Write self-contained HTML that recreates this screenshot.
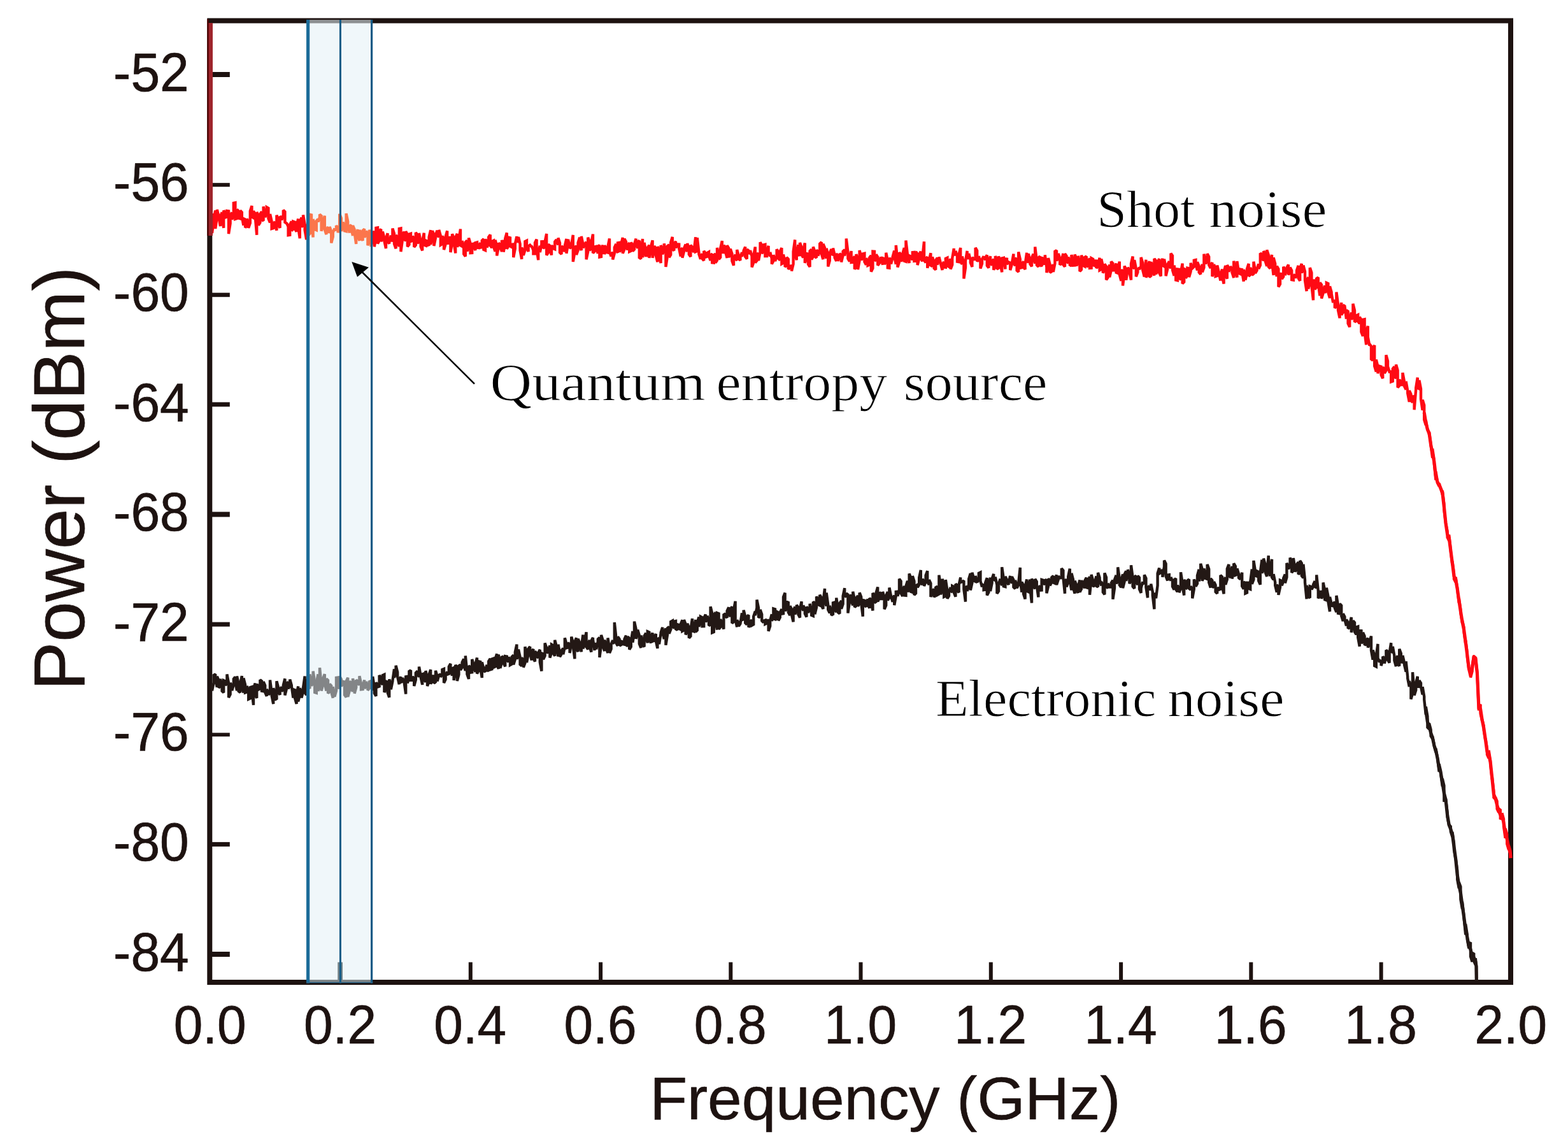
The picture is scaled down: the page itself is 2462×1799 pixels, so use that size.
<!DOCTYPE html>
<html lang="en"><head><meta charset="utf-8"><title>Noise power spectrum</title>
<style>html,body{margin:0;padding:0;background:#fff}body{width:2462px;height:1799px;overflow:hidden}svg{display:block}.s{font-family:"Liberation Sans",sans-serif;fill:#1d1210;stroke:#1d1210;stroke-width:0.7px;stroke-linejoin:round}.r{font-family:"Liberation Serif",serif;fill:#000;stroke:#fff;stroke-width:0.9px}</style></head><body>
<svg width="2462" height="1799" viewBox="0 0 2462 1799">
<rect width="2462" height="1799" fill="#fff"/>
<rect x="329.3" y="32.5" width="2042.7" height="1509.5" fill="none" stroke="#1d1210" stroke-width="8"/>
<rect x="333" y="113.0" width="27.8" height="8.0" fill="#1d1210"/>
<rect x="333" y="287.2" width="27.8" height="6.0" fill="#1d1210"/>
<rect x="333" y="459.6" width="27.8" height="6.6" fill="#1d1210"/>
<rect x="333" y="631.4" width="27.8" height="7.0" fill="#1d1210"/>
<rect x="333" y="803.5" width="27.8" height="8.0" fill="#1d1210"/>
<rect x="333" y="976.6" width="27.8" height="7.0" fill="#1d1210"/>
<rect x="333" y="1150.4" width="27.8" height="5.8" fill="#1d1210"/>
<rect x="333" y="1321.9" width="27.8" height="7.0" fill="#1d1210"/>
<rect x="333" y="1494.0" width="27.8" height="8.0" fill="#1d1210"/>
<rect x="531.5" y="1510.5" width="6" height="28" fill="#1d1210"/>
<rect x="735.8" y="1510.5" width="6" height="28" fill="#1d1210"/>
<rect x="940.1" y="1510.5" width="6" height="28" fill="#1d1210"/>
<rect x="1144.3" y="1510.5" width="6" height="28" fill="#1d1210"/>
<rect x="1348.5" y="1510.5" width="6" height="28" fill="#1d1210"/>
<rect x="1552.8" y="1510.5" width="6" height="28" fill="#1d1210"/>
<rect x="1757.1" y="1510.5" width="6" height="28" fill="#1d1210"/>
<rect x="1961.3" y="1510.5" width="6" height="28" fill="#1d1210"/>
<rect x="2165.6" y="1510.5" width="6" height="28" fill="#1d1210"/>
<svg x="325" y="28" width="2051" height="1518" viewBox="325 28 2051 1518" overflow="hidden"><g fill="none" stroke-linejoin="miter" stroke-miterlimit="2">
<path d="M333.0 1073.0L333.0 1084.3L335.6 1071.5L335.6 1059.9L338.2 1058.3L338.2 1066.1L340.8 1078.7L340.8 1061.8L343.4 1067.8L343.4 1079.6L346.0 1076.9L346.0 1065.8L348.6 1075.3L348.6 1084.8L351.2 1087.2L351.2 1068.1L353.8 1069.3L353.8 1075.7L356.4 1072.8L356.4 1058.5L359.0 1072.1L359.0 1094.9L361.6 1090.0L361.6 1072.0L364.2 1077.5L364.2 1084.1L366.8 1075.1L366.8 1065.9L369.4 1062.7L369.4 1070.2L372.0 1084.2L372.0 1061.4L374.6 1073.4L374.6 1085.0L377.2 1087.1L377.2 1073.7L379.8 1061.1L379.8 1076.5L382.4 1087.6L382.4 1064.5L385.0 1074.7L385.0 1087.4L387.6 1086.5L387.6 1076.8L390.2 1087.0L390.2 1097.6L392.8 1096.4L392.8 1079.0L395.4 1078.2L395.4 1084.8L398.0 1106.8L398.0 1083.2L400.6 1072.6L400.6 1090.3L403.2 1095.8L403.2 1074.0L405.8 1078.1L405.8 1082.5L408.4 1081.2L408.4 1067.2L411.0 1069.3L411.0 1084.7L413.6 1085.2L413.6 1070.1L416.2 1075.9L416.2 1086.9L418.8 1092.8L418.8 1081.7L421.4 1088.5L421.4 1090.6L424.0 1087.8L424.0 1067.5L426.6 1086.8L426.6 1091.9L429.2 1105.1L429.2 1080.3L431.8 1087.8L431.8 1098.4L434.4 1096.8L434.4 1069.3L437.0 1079.3L437.0 1085.7L439.6 1090.7L439.6 1083.1L442.2 1078.2L442.2 1085.2L444.8 1082.6L444.8 1075.8L447.4 1065.4L447.4 1091.5L450.0 1080.9L450.0 1073.4L452.6 1070.6L452.6 1081.3L455.2 1076.5L455.2 1066.6L457.8 1075.9L457.8 1077.2L460.4 1095.5L460.4 1082.2L463.0 1083.3L463.0 1095.7L465.6 1104.9L465.6 1090.4L468.2 1077.5L468.2 1101.1L470.8 1090.8L470.8 1080.3L473.4 1087.0L473.4 1095.4L476.0 1085.8L476.0 1079.9L478.6 1061.5L478.6 1087.0L481.2 1091.0L481.2 1081.1L483.8 1059.7L483.8 1078.6L486.4 1080.7L486.4 1058.5L489.0 1070.2L489.0 1076.7L491.6 1071.6L491.6 1053.7L494.2 1070.9L494.2 1086.9L496.8 1087.7L496.8 1072.9L499.4 1058.5L499.4 1084.9L502.0 1075.6L502.0 1048.2L504.6 1074.3L504.6 1084.4L507.2 1074.5L507.2 1065.2L509.8 1058.2L509.8 1072.8L512.4 1084.4L512.4 1065.5L515.0 1068.0L515.0 1088.4L517.6 1085.2L517.6 1073.8L520.2 1076.7L520.2 1086.1L522.8 1095.6L522.8 1078.1L525.4 1093.6L528.0 1084.2L528.0 1063.9L530.6 1063.5L530.6 1081.4L533.2 1069.7L533.2 1061.4L535.8 1066.4L535.8 1077.2L538.4 1073.3L538.4 1069.7L541.0 1070.5L541.0 1090.8L543.6 1094.4L543.6 1069.5L546.2 1063.8L546.2 1093.9L548.8 1084.5L548.8 1069.7L551.4 1071.6L551.4 1080.9L554.0 1085.4L554.0 1065.1L556.6 1078.4L556.6 1088.6L559.2 1079.3L559.2 1067.4L561.8 1069.9L561.8 1072.8L564.4 1075.1L564.4 1061.2L567.0 1073.3L567.0 1082.3L569.6 1082.0L569.6 1076.7L572.2 1067.6L572.2 1080.6L574.8 1077.8L574.8 1069.9L577.4 1077.3L577.4 1083.5L580.0 1080.4L580.0 1070.2L582.6 1069.0L582.6 1072.8L585.2 1083.9L585.2 1062.0L587.8 1079.1L587.8 1088.1L590.4 1092.8L590.4 1071.6L593.0 1074.6L593.0 1078.4L595.6 1077.5L595.6 1059.9L598.2 1065.0L598.2 1070.1L600.8 1075.0L600.8 1060.2L603.4 1059.0L603.4 1086.8L606.0 1080.7L606.0 1069.7L608.6 1070.6L608.6 1087.1L611.2 1094.7L611.2 1066.3L613.8 1076.0L613.8 1082.3L616.4 1069.6L616.4 1068.7L619.0 1050.4L619.0 1063.7L621.6 1055.9L621.6 1044.7L624.2 1055.3L624.2 1062.4L626.8 1074.3L626.8 1067.1L629.4 1062.5L629.4 1070.8L632.0 1069.7L632.0 1064.0L634.6 1071.0L637.2 1089.4L637.2 1062.3L639.8 1061.8L639.8 1072.4L642.4 1064.0L642.4 1054.0L645.0 1052.2L645.0 1067.7L647.6 1067.6L647.6 1062.1L650.2 1065.6L650.2 1077.0L652.8 1067.3L652.8 1056.4L655.4 1053.5L655.4 1058.3L658.0 1062.6L658.0 1046.6L660.6 1060.6L660.6 1063.1L663.2 1074.9L663.2 1058.2L665.8 1057.3L665.8 1066.1L668.4 1070.7L668.4 1052.9L671.0 1064.7L671.0 1077.0L673.6 1069.6L673.6 1059.0L676.2 1051.2L676.2 1073.8L678.8 1067.1L678.8 1061.4L681.4 1061.3L681.4 1072.7L684.0 1070.3L684.0 1052.8L686.6 1061.9L686.6 1069.4L689.2 1060.0L691.8 1058.3L691.8 1062.8L694.4 1058.2L694.4 1051.1L697.0 1050.0L697.0 1072.0L699.6 1066.4L699.6 1060.7L702.2 1054.3L702.2 1058.7L704.8 1057.7L704.8 1046.5L707.4 1041.9L707.4 1050.5L710.0 1060.7L710.0 1049.5L712.6 1048.1L712.6 1067.9L715.2 1052.9L715.2 1043.7L717.8 1048.4L717.8 1069.0L720.4 1059.0L720.4 1045.3L723.0 1043.5L723.0 1051.8L725.6 1047.3L725.6 1039.7L728.2 1034.4L728.2 1044.1L730.8 1053.0L730.8 1029.5L733.4 1055.3L733.4 1058.3L736.0 1065.9L736.0 1045.2L738.6 1047.5L738.6 1055.7L741.2 1055.4L741.2 1034.9L743.8 1044.0L743.8 1046.2L746.4 1055.0L746.4 1042.9L749.0 1032.5L749.0 1057.6L751.6 1052.4L751.6 1038.3L754.2 1039.0L754.2 1048.3L756.8 1064.0L756.8 1039.5L759.4 1049.5L759.4 1053.0L762.0 1054.7L762.0 1050.6L764.6 1043.8L764.6 1051.8L767.2 1053.5L767.2 1038.2L769.8 1033.9L769.8 1051.2L772.4 1050.4L772.4 1034.5L775.0 1033.6L775.0 1047.8L777.6 1046.5L777.6 1034.4L780.2 1026.4L780.2 1042.4L782.8 1050.1L782.8 1027.6L785.4 1044.0L785.4 1048.9L788.0 1039.8L788.0 1030.3L790.6 1032.3L790.6 1040.8L793.2 1046.2L793.2 1030.1L795.8 1030.6L795.8 1035.5L798.4 1039.4L798.4 1031.8L801.0 1034.9L801.0 1043.9L803.6 1042.4L803.6 1031.4L806.2 1028.6L806.2 1043.3L808.8 1035.1L808.8 1023.8L811.4 1011.6L811.4 1034.5L814.0 1029.6L814.0 1019.5L816.6 1031.4L816.6 1043.0L819.2 1045.3L819.2 1032.1L821.8 1037.5L821.8 1047.6L824.4 1040.8L824.4 1015.3L827.0 1026.3L827.0 1040.1L829.6 1026.6L829.6 1018.5L832.2 1015.2L832.2 1025.4L834.8 1036.5L834.8 1022.8L837.4 1019.1L837.4 1032.6L840.0 1038.6L840.0 1022.4L842.6 1025.6L842.6 1030.0L845.2 1032.7L845.2 1024.7L847.8 1019.9L847.8 1039.5L850.4 1053.5L850.4 1025.5L853.0 1026.5L853.0 1035.2L855.6 1029.5L855.6 1009.5L858.2 1017.1L858.2 1023.3L860.8 1025.0L860.8 1020.1L863.4 1013.6L863.4 1032.5L866.0 1024.6L866.0 1011.6L868.6 1013.0L868.6 1025.1L871.2 1029.7L871.2 1004.7L873.8 1014.5L873.8 1015.1L876.4 1030.5L876.4 1011.8L879.0 1024.8L879.0 1031.1L881.6 1026.7L881.6 1021.7L884.2 1017.6L884.2 1027.3L886.8 1015.9L886.8 1001.4L889.4 1010.5L889.4 1017.3L892.0 1016.5L892.0 1008.5L894.6 1013.8L894.6 1025.1L897.2 1008.9L897.2 999.5L899.8 1008.7L899.8 1014.6L902.4 1034.2L902.4 1007.8L905.0 1001.4L905.0 1017.7L907.6 1023.0L907.6 1002.8L910.2 1009.0L910.2 1012.7L912.8 1023.2L912.8 1015.6L915.4 996.5L915.4 1018.2L918.0 1010.8L918.0 1006.2L920.6 992.3L920.6 1015.4L923.2 1019.4L923.2 1011.4L925.8 1004.9L925.8 1015.2L928.4 1023.6L928.4 1005.8L931.0 1001.1L931.0 1003.9L933.6 1021.0L933.6 1009.8L936.2 1012.9L936.2 1019.2L938.8 1007.3L938.8 1003.4L941.4 1000.9L941.4 1031.9L944.0 1012.4L944.0 996.8L946.6 1005.0L946.6 1014.0L949.2 1022.0L949.2 1004.8L951.8 1012.3L951.8 1017.7L954.4 1025.0L954.4 1001.4L957.0 1017.9L957.0 1025.1L959.6 1018.9L959.6 1012.0L962.2 1005.1L962.2 1010.4L964.8 1006.9L964.8 977.1L967.4 1001.0L967.4 1009.5L970.0 1013.8L970.0 999.4L972.6 1003.1L972.6 1012.0L975.2 1013.6L975.2 1006.6L977.8 1007.5L977.8 1011.0L980.4 1011.7L980.4 1003.4L983.0 997.8L983.0 1012.2L985.6 1014.3L985.6 999.5L988.2 1002.2L988.2 1019.5L990.8 1015.3L990.8 1007.0L993.4 990.9L993.4 1008.6L996.0 992.7L996.0 975.6L998.6 987.6L998.6 1002.8L1001.2 993.2L1001.2 988.6L1003.8 997.4L1003.8 1010.5L1006.4 1017.0L1006.4 997.6L1009.0 1008.9L1009.0 1012.2L1011.6 1015.3L1011.6 998.3L1014.2 994.0L1014.2 1000.6L1016.8 1009.2L1016.8 991.4L1019.4 992.6L1019.4 1002.5L1022.0 1009.6L1022.0 999.9L1024.6 993.6L1024.6 1006.6L1027.2 1005.5L1027.2 1001.2L1029.8 995.1L1029.8 1005.8L1032.4 1017.9L1032.4 1001.7L1035.0 1003.7L1035.0 1011.2L1037.6 994.5L1037.6 993.2L1040.2 984.8L1040.2 991.6L1042.8 1003.3L1042.8 993.0L1045.4 986.5L1045.4 1012.7L1048.0 996.3L1048.0 986.1L1050.6 984.1L1050.6 994.7L1053.2 988.2L1053.2 976.1L1055.8 974.6L1055.8 982.6L1058.4 986.3L1058.4 975.5L1061.0 975.0L1061.0 987.2L1063.6 988.9L1063.6 980.2L1066.2 981.0L1066.2 986.7L1068.8 988.2L1068.8 979.7L1071.4 973.2L1071.4 990.7L1074.0 989.2L1074.0 973.1L1076.6 979.9L1076.6 996.3L1079.2 990.8L1079.2 978.7L1081.8 985.3L1081.8 1001.6L1084.4 998.6L1084.4 988.2L1087.0 971.0L1087.0 990.5L1089.6 991.3L1089.6 985.9L1092.2 973.0L1092.2 992.1L1094.8 989.3L1094.8 977.0L1097.4 968.7L1097.4 983.9L1100.0 975.1L1100.0 967.9L1102.6 969.3L1102.6 983.2L1105.2 983.1L1105.2 970.4L1107.8 964.6L1107.8 975.9L1110.4 973.5L1110.4 966.7L1113.0 975.1L1113.0 982.1L1115.6 980.5L1115.6 952.3L1118.2 962.9L1118.2 993.1L1120.8 992.0L1120.8 966.8L1123.4 961.2L1123.4 974.5L1126.0 988.5L1126.0 962.3L1128.6 963.3L1128.6 987.8L1131.2 984.3L1131.2 972.0L1133.8 978.7L1133.8 980.4L1136.4 987.4L1136.4 965.1L1139.0 963.2L1139.0 967.0L1141.6 969.7L1141.6 959.0L1144.2 953.3L1144.2 963.3L1146.8 967.9L1146.8 957.6L1149.4 952.3L1149.4 978.2L1152.0 976.0L1152.0 957.2L1154.6 943.8L1154.6 972.8L1157.2 984.3L1157.2 973.5L1159.8 977.7L1159.8 983.1L1162.4 979.2L1162.4 978.9L1165.0 962.4L1165.0 973.2L1167.6 972.1L1167.6 957.8L1170.2 967.9L1170.2 977.8L1172.8 980.6L1172.8 968.1L1175.4 965.5L1175.4 984.5L1178.0 981.0L1178.0 975.8L1180.6 973.4L1180.6 981.7L1183.2 980.3L1183.2 967.6L1185.8 959.8L1185.8 965.9L1188.4 954.2L1188.4 941.4L1191.0 954.2L1191.0 969.6L1193.6 967.2L1193.6 957.0L1196.2 964.4L1196.2 974.4L1198.8 977.4L1198.8 974.8L1201.4 973.7L1201.4 979.6L1204.0 978.3L1204.0 973.8L1206.6 973.7L1206.6 990.8L1209.2 982.9L1209.2 974.6L1211.8 964.2L1211.8 974.7L1214.4 968.0L1214.4 955.5L1217.0 956.4L1217.0 973.8L1219.6 969.2L1219.6 960.1L1222.2 961.5L1222.2 974.1L1224.8 969.3L1224.8 961.4L1227.4 956.3L1227.4 963.6L1230.0 963.2L1230.0 937.1L1232.6 930.7L1232.6 959.3L1235.2 954.6L1235.2 944.8L1237.8 946.0L1237.8 961.2L1240.4 966.0L1240.4 951.3L1243.0 956.4L1243.0 964.9L1245.6 976.2L1245.6 959.4L1248.2 952.6L1248.2 964.6L1250.8 956.4L1250.8 949.8L1253.4 953.6L1253.4 964.5L1256.0 969.6L1256.0 956.1L1258.6 944.3L1258.6 952.1L1261.2 958.7L1261.2 950.4L1263.8 956.2L1263.8 963.3L1266.4 968.4L1266.4 952.4L1269.0 956.2L1269.0 962.0L1271.6 954.5L1271.6 947.7L1274.2 961.4L1274.2 965.8L1276.8 966.9L1276.8 944.7L1279.4 947.0L1279.4 964.3L1282.0 953.4L1282.0 936.6L1284.6 941.3L1284.6 949.1L1287.2 950.3L1287.2 933.7L1289.8 938.8L1289.8 950.3L1292.4 955.9L1292.4 944.7L1295.0 923.9L1295.0 942.6L1297.6 951.4L1297.6 930.6L1300.2 949.3L1300.2 956.9L1302.8 962.4L1302.8 950.7L1305.4 961.0L1305.4 965.7L1308.0 964.1L1308.0 946.3L1310.6 945.5L1310.6 956.3L1313.2 961.0L1313.2 938.6L1315.8 954.7L1315.8 961.2L1318.4 963.3L1318.4 947.1L1321.0 943.1L1321.0 955.7L1323.6 948.2L1323.6 935.8L1326.2 923.2L1326.2 934.9L1328.8 937.2L1328.8 931.6L1331.4 933.5L1331.4 962.4L1334.0 944.8L1334.0 937.2L1336.6 933.7L1336.6 942.3L1339.2 950.3L1339.2 928.8L1341.8 940.9L1341.8 953.1L1344.4 950.9L1344.4 939.0L1347.0 935.1L1347.0 951.8L1349.6 946.9L1349.6 930.4L1352.2 937.2L1352.2 946.4L1354.8 967.8L1354.8 942.0L1357.4 942.7L1357.4 949.4L1360.0 952.8L1360.0 946.6L1362.6 940.6L1362.6 947.5L1365.2 954.8L1365.2 939.0L1367.8 941.7L1367.8 944.4L1370.4 958.6L1370.4 931.0L1373.0 934.8L1373.0 946.3L1375.6 944.3L1375.6 930.5L1378.2 921.6L1378.2 944.4L1380.8 938.8L1380.8 929.9L1383.4 932.4L1383.4 940.0L1386.0 940.1L1386.0 928.9L1388.6 939.0L1388.6 956.3L1391.2 950.4L1391.2 935.2L1393.8 929.1L1393.8 942.4L1396.4 937.9L1396.4 922.5L1399.0 935.7L1401.6 944.9L1401.6 940.5L1404.2 934.6L1404.2 950.1L1406.8 935.2L1406.8 928.9L1409.4 928.6L1409.4 935.8L1412.0 926.2L1412.0 908.8L1414.6 912.4L1414.6 931.2L1417.2 935.9L1417.2 926.9L1419.8 919.9L1419.8 934.5L1422.4 934.8L1422.4 920.4L1425.0 911.8L1425.0 928.3L1427.6 926.6L1427.6 900.5L1430.2 907.0L1430.2 928.7L1432.8 929.8L1432.8 904.2L1435.4 912.3L1435.4 934.1L1438.0 931.3L1438.0 919.4L1440.6 918.0L1440.6 922.3L1443.2 917.6L1443.2 906.8L1445.8 895.0L1445.8 915.2L1448.4 917.6L1448.4 908.7L1451.0 913.8L1451.0 919.9L1453.6 913.0L1453.6 903.2L1456.2 896.3L1456.2 913.7L1458.8 917.9L1458.8 910.3L1461.4 915.7L1461.4 936.9L1464.0 930.3L1464.0 927.6L1466.6 924.7L1466.6 937.6L1469.2 932.2L1469.2 922.3L1471.8 920.5L1471.8 933.9L1474.4 932.4L1474.4 902.8L1477.0 919.4L1477.0 933.1L1479.6 926.4L1479.6 908.7L1482.2 919.8L1482.2 936.9L1484.8 935.8L1484.8 910.2L1487.4 927.2L1487.4 939.7L1490.0 935.3L1490.0 929.7L1492.6 922.0L1492.6 927.4L1495.2 929.5L1495.2 919.7L1497.8 921.0L1497.8 930.0L1500.4 936.8L1500.4 916.9L1503.0 918.7L1503.0 926.6L1505.6 930.1L1505.6 917.9L1508.2 906.5L1508.2 914.2L1510.8 913.3L1513.4 911.5L1513.4 925.2L1516.0 944.6L1516.0 922.3L1518.6 920.6L1518.6 927.9L1521.2 917.3L1521.2 908.8L1523.8 900.1L1523.8 926.5L1526.4 914.9L1526.4 898.8L1529.0 907.9L1529.0 911.5L1531.6 912.7L1531.6 904.0L1534.2 914.1L1536.8 909.9L1536.8 899.8L1539.4 898.5L1539.4 912.0L1542.0 921.3L1542.0 917.4L1544.6 918.6L1544.6 926.2L1547.2 925.7L1547.2 914.6L1549.8 907.2L1549.8 934.5L1552.4 929.6L1552.4 917.4L1555.0 906.8L1555.0 928.0L1557.6 915.0L1557.6 908.7L1560.2 900.9L1560.2 909.7L1562.8 911.1L1562.8 905.8L1565.4 918.1L1565.4 931.7L1568.0 928.0L1568.0 917.1L1570.6 908.7L1570.6 912.6L1573.2 918.9L1573.2 890.3L1575.8 908.2L1575.8 920.4L1578.4 921.1L1578.4 904.9L1581.0 910.3L1581.0 913.2L1583.6 917.9L1583.6 914.9L1586.2 904.0L1586.2 909.0L1588.8 915.8L1588.8 905.2L1591.4 910.2L1591.4 921.6L1594.0 924.1L1594.0 910.9L1596.6 919.5L1596.6 923.3L1599.2 917.9L1599.2 915.5L1601.8 891.0L1601.8 910.6L1604.4 929.6L1604.4 913.6L1607.0 919.3L1607.0 932.2L1609.6 940.4L1609.6 921.0L1612.2 909.5L1612.2 927.8L1614.8 929.0L1614.8 919.7L1617.4 909.8L1617.4 923.9L1620.0 946.5L1620.0 908.6L1622.6 914.6L1622.6 920.6L1625.2 924.1L1625.2 909.0L1627.8 913.1L1627.8 919.4L1630.4 937.4L1630.4 923.8L1633.0 919.3L1633.0 926.6L1635.6 926.4L1635.6 910.0L1638.2 910.8L1638.2 915.5L1640.8 917.5L1640.8 909.7L1643.4 911.5L1643.4 931.3L1646.0 920.3L1646.0 908.5L1648.6 911.1L1648.6 919.3L1651.2 914.1L1651.2 906.7L1653.8 904.0L1653.8 914.6L1656.4 915.7L1656.4 910.9L1659.0 902.4L1659.0 918.1L1661.6 910.2L1661.6 904.6L1664.2 907.3L1666.8 906.9L1666.8 892.3L1669.4 895.5L1669.4 906.8L1672.0 931.8L1672.0 911.6L1674.6 909.8L1674.6 921.3L1677.2 914.2L1677.2 905.2L1679.8 892.7L1679.8 910.7L1682.4 926.4L1682.4 899.9L1685.0 909.8L1685.0 922.8L1687.6 931.7L1687.6 911.7L1690.2 918.4L1690.2 925.9L1692.8 930.7L1692.8 921.2L1695.4 910.6L1695.4 929.6L1698.0 924.5L1698.0 911.5L1700.6 915.3L1700.6 919.0L1703.2 923.0L1703.2 911.8L1705.8 906.7L1705.8 922.2L1708.4 923.0L1708.4 912.8L1711.0 905.3L1711.0 933.7L1713.6 908.6L1713.6 902.1L1716.2 911.3L1716.2 921.0L1718.8 918.5L1718.8 916.0L1721.4 904.6L1721.4 919.7L1724.0 921.3L1724.0 898.9L1726.6 906.9L1726.6 909.5L1729.2 919.5L1729.2 913.0L1731.8 919.1L1731.8 929.6L1734.4 933.3L1734.4 899.6L1737.0 906.5L1737.0 920.9L1739.6 922.9L1739.6 915.8L1742.2 921.6L1744.8 921.5L1744.8 915.1L1747.4 910.9L1747.4 940.7L1750.0 923.1L1750.0 910.2L1752.6 902.9L1752.6 916.2L1755.2 912.0L1755.2 890.4L1757.8 908.7L1757.8 918.4L1760.4 922.0L1760.4 911.9L1763.0 901.5L1763.0 923.2L1765.6 912.9L1765.6 901.5L1768.2 896.6L1768.2 911.9L1770.8 901.6L1770.8 894.2L1773.4 903.3L1773.4 916.2L1776.0 910.3L1776.0 887.3L1778.6 906.8L1778.6 920.7L1781.2 923.8L1781.2 905.8L1783.8 903.9L1783.8 912.0L1786.4 918.1L1786.4 904.0L1789.0 906.9L1789.0 924.9L1791.6 930.8L1791.6 923.3L1794.2 913.2L1794.2 916.6L1796.8 915.1L1796.8 902.4L1799.4 907.8L1799.4 921.6L1802.0 938.3L1802.0 923.0L1804.6 919.6L1804.6 925.9L1807.2 923.8L1807.2 916.6L1809.8 929.2L1809.8 934.5L1812.4 956.3L1812.4 932.3L1815.0 932.5L1815.0 939.2L1817.6 919.0L1817.6 900.0L1820.2 891.6L1820.2 900.4L1822.8 898.9L1822.8 893.9L1825.4 901.6L1825.4 906.0L1828.0 889.7L1828.0 879.8L1830.6 885.1L1830.6 904.5L1833.2 911.6L1833.2 902.7L1835.8 902.3L1835.8 906.7L1838.4 911.3L1838.4 906.0L1841.0 912.5L1841.0 920.7L1843.6 925.7L1843.6 910.2L1846.2 908.1L1846.2 925.0L1848.8 929.0L1848.8 918.6L1851.4 924.8L1851.4 930.1L1854.0 923.2L1854.0 898.3L1856.6 915.2L1856.6 920.4L1859.2 934.6L1859.2 910.1L1861.8 915.3L1861.8 925.0L1864.4 920.0L1864.4 911.5L1867.0 909.5L1867.0 923.7L1869.6 925.8L1869.6 920.1L1872.2 925.7L1872.2 939.3L1874.8 924.9L1874.8 909.6L1877.4 916.5L1877.4 920.7L1880.0 916.1L1880.0 903.5L1882.6 893.9L1882.6 912.5L1885.2 898.2L1885.2 884.8L1887.8 893.9L1887.8 911.9L1890.4 903.8L1890.4 892.6L1893.0 902.6L1893.0 908.1L1895.6 909.1L1895.6 885.9L1898.2 893.4L1898.2 914.5L1900.8 922.6L1900.8 908.2L1903.4 911.4L1903.4 920.3L1906.0 922.1L1906.0 913.1L1908.6 918.4L1908.6 929.0L1911.2 931.7L1911.2 924.6L1913.8 922.3L1913.8 925.8L1916.4 924.8L1916.4 903.1L1919.0 905.7L1919.0 920.8L1921.6 932.2L1921.6 910.8L1924.2 906.5L1924.2 917.8L1926.8 909.7L1926.8 892.9L1929.4 886.0L1929.4 902.0L1932.0 906.9L1932.0 900.1L1934.6 889.0L1934.6 908.6L1937.2 893.7L1937.2 884.4L1939.8 888.8L1939.8 903.0L1942.4 901.9L1942.4 892.5L1945.0 900.9L1945.0 907.1L1947.6 909.5L1947.6 908.6L1950.2 898.7L1950.2 920.2L1952.8 924.5L1952.8 913.2L1955.4 915.9L1955.4 931.6L1958.0 930.4L1958.0 914.7L1960.6 914.8L1960.6 923.8L1963.2 924.9L1963.2 913.3L1965.8 893.5L1965.8 916.8L1968.4 909.9L1968.4 880.1L1971.0 896.7L1971.0 903.5L1973.6 904.6L1973.6 896.5L1976.2 897.8L1976.2 911.8L1978.8 917.7L1978.8 899.0L1981.4 878.7L1981.4 899.8L1984.0 890.6L1984.0 876.7L1986.6 886.3L1986.6 898.0L1989.2 904.9L1989.2 897.4L1991.8 872.2L1991.8 895.5L1994.4 904.3L1994.4 891.4L1997.0 877.9L1997.0 906.0L1999.6 910.1L1999.6 901.2L2002.2 914.1L2002.2 919.0L2004.8 929.7L2004.8 917.7L2007.4 922.5L2007.4 933.9L2010.0 921.9L2010.0 910.9L2012.6 912.0L2012.6 919.2L2015.2 912.4L2015.2 907.8L2017.8 901.7L2017.8 915.3L2020.4 906.2L2020.4 883.9L2023.0 890.6L2023.0 893.4L2025.6 887.7L2025.6 875.4L2028.2 883.2L2028.2 899.1L2030.8 894.8L2030.8 876.1L2033.4 892.6L2033.4 897.7L2036.0 891.3L2036.0 886.5L2038.6 882.3L2038.6 901.4L2041.2 899.1L2041.2 880.2L2043.8 884.1L2043.8 903.8L2046.4 907.1L2046.4 885.7L2049.0 910.7L2049.0 914.2L2051.6 940.2L2051.6 919.2L2054.2 928.8L2054.2 935.9L2056.8 938.6L2056.8 920.4L2059.4 921.3L2059.4 925.5L2062.0 920.6L2062.0 917.7L2064.6 912.3L2064.6 921.1L2067.2 922.7L2067.2 902.5L2069.8 927.9L2069.8 939.3L2072.4 933.9L2072.4 929.1L2075.0 928.9L2075.0 939.7L2077.6 933.6L2077.6 914.5L2080.2 926.9L2080.2 941.2L2082.8 942.2L2082.8 922.8L2085.4 935.8L2085.4 944.2L2088.0 960.1L2088.0 937.1L2090.6 947.5L2090.6 950.6L2093.2 951.3L2093.2 947.7L2095.8 945.0L2095.8 954.5L2098.4 960.9L2098.4 934.9L2101.0 950.6L2101.0 962.7L2103.6 963.3L2103.6 947.8L2106.2 950.6L2106.2 966.7L2108.8 975.2L2108.8 963.4L2111.4 968.3L2111.4 972.5L2114.0 982.4L2114.0 972.5L2116.6 977.6L2116.6 986.6L2119.2 985.0L2119.2 980.6L2121.8 969.1L2121.8 992.7L2124.4 979.9L2124.4 974.3L2127.0 977.4L2127.0 991.8L2129.6 996.0L2129.6 984.5L2132.2 983.6L2132.2 1000.5L2134.8 1014.8L2134.8 989.7L2137.4 990.1L2137.4 1009.6L2140.0 1007.5L2140.0 992.8L2142.6 998.7L2142.6 1012.6L2145.2 1010.7L2145.2 1005.2L2147.8 1001.7L2147.8 1016.4L2150.4 1010.8L2150.4 1006.9L2153.0 998.6L2153.0 1021.0L2155.6 1035.7L2155.6 1020.4L2158.2 1029.6L2158.2 1045.1L2160.8 1046.4L2160.8 1029.8L2163.4 1010.9L2163.4 1032.9L2166.0 1039.7L2166.0 1035.7L2168.6 1040.2L2168.6 1045.1L2171.2 1036.4L2171.2 1030.8L2173.8 1033.6L2173.8 1041.6L2176.4 1030.2L2176.4 1020.6L2179.0 1023.0L2179.0 1035.9L2181.6 1040.4L2181.6 1025.3L2184.2 1009.2L2184.2 1021.2L2186.8 1024.8L2186.8 1015.0L2189.4 1029.6L2189.4 1037.0L2192.0 1046.1L2192.0 1035.7L2194.6 1029.2L2194.6 1042.0L2197.2 1045.5L2197.2 1018.8L2199.8 1025.6L2199.8 1039.2L2202.4 1039.7L2202.4 1029.0L2205.0 1040.4L2205.0 1043.4L2207.6 1054.6L2207.6 1038.2L2210.2 1062.3L2210.2 1064.7L2212.8 1078.0L2212.8 1069.2L2215.4 1078.6L2215.4 1097.6L2218.0 1088.8L2218.0 1055.3L2220.6 1085.1L2220.6 1091.5L2223.2 1083.4L2223.2 1072.3L2225.8 1061.9L2225.8 1077.7L2228.4 1077.9L2228.4 1068.2L2231.0 1072.3L2231.0 1077.8L2233.6 1090.4L2233.6 1078.2L2236.2 1093.5L2236.2 1098.2L2238.8 1121.8L2238.8 1109.3L2241.4 1124.4L2241.4 1141.8L2244.0 1144.4L2244.0 1135.3L2246.6 1145.2L2246.6 1155.3L2249.2 1159.7L2249.2 1155.9L2251.8 1168.8L2251.8 1171.2L2254.4 1180.9L2254.4 1175.0L2257.0 1189.4L2257.0 1190.0L2259.6 1211.5L2259.6 1199.3L2262.2 1210.6L2262.2 1215.3L2264.8 1234.5L2264.8 1222.3L2267.4 1233.3L2267.4 1256.8L2270.0 1257.0L2270.0 1254.1L2272.6 1276.4L2272.6 1282.6L2275.2 1295.5L2275.2 1294.4L2277.8 1297.6L2277.8 1305.4L2280.4 1313.6L2280.4 1306.1L2283.0 1323.8L2283.0 1334.1L2285.6 1348.8L2285.6 1347.4L2288.2 1366.5L2288.2 1380.5L2290.8 1394.4L2290.8 1384.9L2293.4 1391.9L2293.4 1411.9L2296.0 1426.8L2296.0 1415.6L2298.6 1437.8L2298.6 1441.1L2301.2 1467.3L2301.2 1450.5L2303.8 1467.5L2303.8 1474.7L2306.4 1488.9L2306.4 1482.2L2309.0 1479.3L2309.0 1501.4L2311.6 1509.9L2311.6 1495.8L2314.2 1497.5L2314.2 1508.7L2316.8 1514.5L2316.8 1504.3L2318.0 1517.0L2318.3 1540" stroke="#231815" stroke-width="4.4"/>
<path d="M2238.8 1115.5L2241.4 1133.1L2244.0 1139.8L2246.6 1150.3L2249.2 1157.8L2251.8 1170.0L2254.4 1178.0L2257.0 1189.7L2259.6 1205.4L2262.2 1213.0L2264.8 1228.4L2267.4 1245.1L2270.0 1255.5L2272.6 1279.5L2275.2 1295.0L2277.8 1301.5L2280.4 1309.9L2283.0 1329.0L2285.6 1348.1L2288.2 1373.5L2290.8 1389.6L2293.4 1401.9L2296.0 1421.2L2298.6 1439.4L2301.2 1458.9L2303.8 1471.1L2306.4 1485.5L2309.0 1490.3L2311.6 1502.9L2314.2 1503.1L2316.8 1509.4L2318.0 1517.0L2318.3 1540" stroke="#231815" stroke-width="5.2" stroke-linejoin="round"/>
<path d="M330.8 37L330.8 350L333.0 335.1L333.0 366.0L335.6 346.1L335.6 343.0L338.2 330.5L338.2 359.0L340.8 340.5L340.8 329.1L343.4 339.0L343.4 340.3L346.0 355.1L346.0 340.0L348.6 333.2L348.6 341.0L351.2 357.8L351.2 330.4L353.8 334.4L353.8 341.4L356.4 340.4L356.4 331.0L359.0 331.4L359.0 367.1L361.6 350.9L361.6 338.9L364.2 333.5L364.2 344.6L366.8 338.6L366.8 318.8L369.4 318.2L369.4 343.9L372.0 342.9L372.0 328.8L374.6 331.4L374.6 342.5L377.2 343.3L377.2 330.5L379.8 333.3L379.8 340.0L382.4 353.8L382.4 343.2L385.0 344.4L385.0 357.3L387.6 354.0L387.6 343.4L390.2 349.6L390.2 357.9L392.8 350.2L392.8 331.4L395.4 323.1L395.4 340.5L398.0 342.0L398.0 331.3L400.6 336.3L400.6 339.1L403.2 368.8L403.2 332.9L405.8 339.6L405.8 353.7L408.4 349.3L408.4 336.0L411.0 332.4L411.0 344.8L413.6 346.6L413.6 324.3L416.2 336.7L416.2 341.1L418.8 334.3L418.8 325.3L421.4 326.8L421.4 343.0L424.0 349.5L424.0 336.0L426.6 347.5L426.6 358.9L429.2 358.1L429.2 352.3L431.8 347.9L431.8 349.3L434.4 361.8L434.4 337.7L437.0 345.6L437.0 351.4L439.6 357.8L439.6 339.8L442.2 341.4L442.2 345.5L444.8 337.4L444.8 329.9L447.4 332.4L447.4 348.8L450.0 350.6L450.0 349.8L452.6 355.9L452.6 369.2L455.2 368.8L455.2 352.6L457.8 347.6L457.8 362.2L460.4 359.4L460.4 347.7L463.0 348.7L463.0 359.1L465.6 363.7L465.6 354.8L468.2 343.4L468.2 356.6L470.8 374.3L470.8 350.1L473.4 341.3L473.4 356.0L476.0 354.3L476.0 337.4L478.6 352.5L478.6 361.3L481.2 376.2L481.2 355.7L483.8 351.1L483.8 369.9L486.4 366.7L486.4 336.8L489.0 337.4L489.0 354.2L491.6 372.5L491.6 344.0L494.2 355.1L494.2 360.1L496.8 361.2L496.8 346.9L499.4 343.9L499.4 348.2L502.0 341.1L502.0 336.6L504.6 338.9L504.6 362.8L507.2 352.9L507.2 349.3L509.8 338.7L509.8 360.4L512.4 368.1L512.4 360.5L515.0 356.2L515.0 363.9L517.6 364.2L517.6 356.0L520.2 363.3L520.2 381.4L522.8 371.7L522.8 364.9L525.4 358.5L525.4 359.6L528.0 361.6L528.0 354.0L530.6 358.5L530.6 365.3L533.2 354.8L533.2 335.8L535.8 342.3L535.8 362.7L538.4 355.6L538.4 348.8L541.0 354.1L541.0 362.4L543.6 363.1L543.6 335.1L546.2 347.8L546.2 352.9L548.8 365.5L548.8 355.1L551.4 353.4L551.4 357.7L554.0 370.1L554.0 354.1L556.6 360.2L556.6 365.0L559.2 382.9L559.2 368.0L561.8 360.2L561.8 369.2L564.4 378.0L564.4 361.2L567.0 366.5L567.0 373.1L569.6 377.8L569.6 362.0L572.2 359.6L572.2 372.6L574.8 368.6L574.8 362.9L577.4 366.2L577.4 385.2L580.0 377.7L580.0 360.8L582.6 370.9L582.6 387.2L585.2 370.9L585.2 367.8L587.8 362.9L587.8 387.3L590.4 372.6L590.4 357.8L593.0 357.3L593.0 382.4L595.6 377.7L595.6 363.0L598.2 359.7L598.2 378.9L600.8 374.2L600.8 363.5L603.4 373.6L603.4 378.3L606.0 390.0L606.0 375.3L608.6 366.2L608.6 378.7L611.2 382.4L611.2 380.5L613.8 369.5L613.8 377.4L616.4 377.7L616.4 358.6L619.0 366.8L619.0 382.8L621.6 390.3L621.6 369.3L624.2 372.3L624.2 379.9L626.8 387.1L626.8 359.0L629.4 358.4L629.4 395.1L632.0 376.1L632.0 368.0L634.6 363.8L634.6 375.2L637.2 378.1L637.2 363.1L639.8 368.6L639.8 387.2L642.4 384.0L642.4 367.6L645.0 366.8L645.0 378.9L647.6 377.9L647.6 370.9L650.2 374.1L650.2 387.8L652.8 384.7L652.8 364.9L655.4 369.2L655.4 381.6L658.0 379.9L658.0 365.9L660.6 379.6L660.6 387.4L663.2 393.3L663.2 378.2L665.8 365.8L665.8 384.6L668.4 385.6L668.4 377.4L671.0 378.6L671.0 385.1L673.6 384.2L673.6 372.2L676.2 361.3L676.2 384.1L678.8 371.7L678.8 362.3L681.4 368.5L681.4 386.1L684.0 373.0L684.0 368.5L686.6 361.7L686.6 369.1L689.2 372.1L689.2 360.9L691.8 370.1L691.8 384.6L694.4 383.1L694.4 370.3L697.0 376.3L697.0 392.1L699.6 383.5L699.6 371.8L702.2 362.4L702.2 382.0L704.8 381.6L704.8 373.0L707.4 372.9L707.4 396.0L710.0 381.1L710.0 367.3L712.6 373.4L712.6 381.0L715.2 397.5L715.2 372.9L717.8 367.0L717.8 387.4L720.4 383.5L720.4 376.3L723.0 359.5L723.0 385.3L725.6 386.8L725.6 377.9L728.2 390.5L728.2 398.8L730.8 402.5L730.8 380.1L733.4 377.7L733.4 394.6L736.0 386.8L736.0 373.6L738.6 382.2L738.6 397.1L741.2 397.0L741.2 383.3L743.8 382.6L743.8 386.6L746.4 393.0L746.4 381.2L749.0 380.4L749.0 388.8L751.6 389.1L751.6 386.5L754.2 381.2L754.2 388.6L756.8 388.1L756.8 377.7L759.4 375.2L759.4 391.9L762.0 393.0L762.0 376.3L764.6 378.0L764.6 388.5L767.2 381.4L767.2 372.2L769.8 368.6L769.8 385.6L772.4 389.0L772.4 378.8L775.0 377.6L775.0 387.5L777.6 394.8L777.6 376.8L780.2 385.5L780.2 401.4L782.8 388.1L782.8 381.5L785.4 384.4L785.4 388.2L788.0 394.9L788.0 379.0L790.6 378.6L790.6 395.5L793.2 381.6L793.2 374.5L795.8 365.4L795.8 390.7L798.4 386.0L798.4 372.6L801.0 373.4L801.0 386.5L803.6 388.0L803.6 383.7L806.2 383.4L806.2 404.0L808.8 390.3L808.8 383.0L811.4 371.1L811.4 374.2L814.0 380.8L814.0 372.1L816.6 382.9L816.6 393.1L819.2 406.8L819.2 388.4L821.8 395.8L821.8 400.7L824.4 392.7L824.4 379.2L827.0 377.9L827.0 388.2L829.6 394.9L829.6 386.7L832.2 384.7L834.8 387.5L834.8 386.0L837.4 393.1L837.4 398.3L840.0 398.2L840.0 381.0L842.6 375.8L842.6 391.3L845.2 408.2L845.2 396.4L847.8 385.8L847.8 396.0L850.4 383.8L850.4 379.4L853.0 379.2L853.0 389.9L855.6 387.3L855.6 379.5L858.2 367.0L858.2 400.5L860.8 396.6L860.8 383.6L863.4 385.8L863.4 391.5L866.0 400.5L866.0 385.8L868.6 387.7L868.6 390.0L871.2 391.1L871.2 379.5L873.8 376.2L873.8 378.9L876.4 384.2L876.4 373.5L879.0 381.4L879.0 396.4L881.6 399.0L881.6 386.4L884.2 388.6L884.2 393.3L886.8 393.6L886.8 386.1L889.4 374.9L889.4 397.8L892.0 382.3L892.0 375.7L894.6 386.4L894.6 389.9L897.2 387.5L897.2 383.9L899.8 368.9L899.8 411.0L902.4 395.8L902.4 388.7L905.0 386.0L905.0 400.0L907.6 392.8L907.6 381.1L910.2 372.7L910.2 386.2L912.8 392.9L912.8 370.9L915.4 383.2L915.4 389.3L918.0 384.1L918.0 383.2L920.6 380.0L920.6 407.3L923.2 395.1L923.2 372.7L925.8 380.0L925.8 393.2L928.4 389.6L928.4 380.4L931.0 367.6L931.0 397.2L933.6 394.6L933.6 387.5L936.2 386.9L938.8 398.0L938.8 387.1L941.4 384.8L941.4 403.5L944.0 403.0L944.0 393.3L946.6 384.7L946.6 396.9L949.2 397.3L949.2 385.2L951.8 390.5L951.8 396.0L954.4 396.6L954.4 387.1L957.0 374.4L957.0 395.2L959.6 402.6L959.6 398.2L962.2 396.6L962.2 407.4L964.8 397.6L964.8 388.5L967.4 383.0L967.4 392.4L970.0 396.8L970.0 381.4L972.6 380.9L972.6 395.3L975.2 391.7L975.2 383.5L977.8 373.1L977.8 397.7L980.4 391.4L980.4 374.7L983.0 379.6L983.0 386.6L985.6 392.3L985.6 385.0L988.2 381.4L988.2 395.1L990.8 393.9L990.8 380.5L993.4 385.1L993.4 394.4L996.0 391.5L996.0 383.4L998.6 374.7L998.6 382.4L1001.2 389.8L1001.2 380.0L1003.8 377.8L1003.8 404.4L1006.4 406.2L1006.4 395.0L1009.0 375.1L1009.0 404.0L1011.6 392.4L1011.6 380.9L1014.2 394.7L1014.2 401.1L1016.8 401.3L1016.8 389.0L1019.4 384.8L1019.4 404.9L1022.0 389.4L1022.0 387.4L1024.6 377.3L1024.6 404.8L1027.2 389.6L1027.2 386.4L1029.8 389.7L1029.8 400.9L1032.4 411.2L1032.4 387.3L1035.0 392.8L1035.0 400.7L1037.6 413.0L1037.6 385.2L1040.2 391.6L1040.2 399.3L1042.8 392.2L1042.8 382.3L1045.4 397.0L1045.4 419.0L1048.0 401.8L1048.0 386.5L1050.6 384.3L1050.6 404.1L1053.2 399.8L1053.2 380.5L1055.8 371.9L1055.8 390.9L1058.4 393.3L1058.4 383.9L1061.0 378.7L1061.0 388.9L1063.6 385.8L1063.6 383.4L1066.2 383.6L1066.2 390.0L1068.8 402.6L1068.8 392.2L1071.4 389.5L1071.4 404.7L1074.0 394.7L1074.0 389.9L1076.6 383.5L1076.6 392.1L1079.2 394.4L1079.2 382.0L1081.8 392.3L1081.8 399.3L1084.4 403.1L1084.4 384.8L1087.0 388.3L1087.0 391.6L1089.6 396.0L1089.6 393.7L1092.2 372.2L1092.2 395.1L1094.8 394.0L1094.8 373.2L1097.4 396.6L1097.4 398.8L1100.0 406.8L1100.0 402.6L1102.6 398.5L1102.6 406.0L1105.2 409.1L1105.2 394.0L1107.8 397.6L1107.8 403.7L1110.4 402.8L1110.4 397.0L1113.0 395.5L1113.0 401.6L1115.6 408.9L1115.6 400.9L1118.2 398.4L1118.2 412.3L1120.8 412.5L1120.8 401.1L1123.4 398.3L1123.4 412.6L1126.0 408.6L1126.0 388.9L1128.6 400.3L1128.6 407.0L1131.2 403.9L1131.2 390.1L1133.8 378.1L1133.8 395.9L1136.4 396.1L1136.4 384.8L1139.0 389.4L1139.0 394.9L1141.6 405.0L1141.6 385.3L1144.2 389.7L1144.2 403.8L1146.8 399.8L1146.8 390.6L1149.4 398.4L1149.4 409.7L1152.0 416.8L1152.0 406.8L1154.6 399.4L1154.6 406.3L1157.2 408.5L1157.2 392.1L1159.8 401.0L1159.8 405.7L1162.4 408.7L1162.4 404.1L1165.0 396.1L1165.0 402.8L1167.6 395.2L1167.6 393.5L1170.2 387.5L1170.2 402.9L1172.8 406.4L1172.8 391.4L1175.4 393.5L1175.4 397.3L1178.0 397.8L1178.0 393.1L1180.6 402.3L1180.6 419.4L1183.2 412.2L1183.2 401.3L1185.8 387.6L1185.8 412.3L1188.4 409.3L1188.4 397.6L1191.0 399.2L1191.0 409.2L1193.6 395.6L1193.6 380.3L1196.2 385.2L1196.2 398.1L1198.8 393.7L1198.8 384.5L1201.4 383.8L1201.4 402.1L1204.0 402.1L1204.0 395.7L1206.6 385.9L1206.6 396.9L1209.2 402.4L1209.2 395.9L1211.8 405.7L1211.8 414.5L1214.4 409.7L1214.4 400.2L1217.0 408.3L1217.0 409.9L1219.6 403.0L1219.6 391.2L1222.2 396.0L1222.2 405.6L1224.8 408.5L1224.8 394.5L1227.4 389.3L1227.4 414.2L1230.0 412.7L1230.0 399.5L1232.6 412.3L1232.6 418.9L1235.2 416.5L1235.2 404.0L1237.8 406.8L1237.8 422.4L1240.4 420.3L1240.4 417.6L1243.0 417.3L1243.0 425.5L1245.6 414.6L1245.6 394.8L1248.2 376.4L1248.2 398.3L1250.8 408.2L1250.8 398.0L1253.4 384.2L1253.4 400.5L1256.0 400.1L1256.0 380.9L1258.6 388.5L1258.6 399.4L1261.2 404.5L1261.2 393.1L1263.8 381.5L1263.8 412.8L1266.4 403.9L1266.4 398.1L1269.0 398.7L1269.0 414.8L1271.6 418.9L1271.6 394.2L1274.2 391.5L1274.2 407.6L1276.8 402.6L1276.8 387.4L1279.4 394.7L1279.4 402.7L1282.0 404.6L1282.0 392.5L1284.6 395.3L1284.6 401.7L1287.2 391.9L1287.2 382.6L1289.8 380.2L1289.8 398.2L1292.4 407.1L1292.4 382.8L1295.0 388.9L1295.0 398.9L1297.6 405.6L1297.6 389.9L1300.2 400.3L1300.2 418.4L1302.8 409.3L1302.8 397.3L1305.4 391.1L1305.4 399.0L1308.0 399.8L1308.0 389.6L1310.6 400.6L1310.6 404.6L1313.2 409.9L1313.2 397.8L1315.8 404.3L1315.8 409.7L1318.4 401.9L1318.4 398.0L1321.0 400.5L1321.0 411.4L1323.6 400.9L1323.6 394.7L1326.2 392.2L1326.2 401.6L1328.8 389.9L1328.8 374.6L1331.4 396.0L1331.4 406.0L1334.0 410.5L1334.0 406.0L1336.6 394.1L1336.6 412.0L1339.2 411.6L1339.2 406.6L1341.8 402.5L1341.8 422.6L1344.4 417.7L1344.4 399.0L1347.0 408.4L1347.0 423.1L1349.6 408.9L1349.6 393.1L1352.2 403.6L1352.2 408.1L1354.8 404.8L1354.8 398.5L1357.4 397.8L1357.4 411.0L1360.0 415.8L1360.0 405.4L1362.6 409.8L1362.6 416.9L1365.2 415.7L1365.2 404.6L1367.8 401.1L1367.8 426.6L1370.4 421.2L1370.4 394.7L1373.0 394.9L1373.0 407.5L1375.6 409.4L1375.6 399.5L1378.2 403.6L1378.2 416.6L1380.8 413.1L1380.8 410.5L1383.4 403.5L1383.4 406.0L1386.0 415.7L1386.0 405.3L1388.6 406.1L1388.6 414.9L1391.2 410.8L1391.2 396.8L1393.8 409.0L1393.8 420.3L1396.4 420.7L1396.4 404.4L1399.0 412.9L1399.0 414.6L1401.6 404.0L1401.6 403.3L1404.2 393.5L1404.2 402.7L1406.8 414.8L1406.8 384.9L1409.4 409.8L1409.4 419.5L1412.0 411.1L1412.0 396.2L1414.6 400.1L1414.6 410.3L1417.2 406.8L1417.2 398.6L1419.8 389.1L1419.8 409.7L1422.4 410.6L1422.4 377.5L1425.0 400.2L1425.0 404.6L1427.6 412.9L1427.6 401.2L1430.2 402.5L1430.2 404.0L1432.8 408.2L1432.8 396.2L1435.4 395.9L1435.4 409.8L1438.0 409.6L1438.0 395.1L1440.6 398.8L1440.6 416.1L1443.2 406.2L1443.2 399.5L1445.8 394.7L1445.8 405.3L1448.4 410.2L1448.4 403.5L1451.0 379.2L1451.0 408.6L1453.6 412.3L1453.6 405.4L1456.2 403.7L1456.2 420.7L1458.8 408.1L1461.4 397.3L1461.4 416.5L1464.0 418.3L1464.0 403.3L1466.6 412.9L1466.6 421.1L1469.2 423.4L1469.2 408.6L1471.8 404.7L1471.8 415.7L1474.4 406.0L1474.4 403.2L1477.0 413.2L1477.0 414.5L1479.6 423.9L1479.6 415.6L1482.2 411.0L1482.2 419.4L1484.8 419.7L1484.8 405.9L1487.4 404.7L1487.4 417.3L1490.0 418.7L1490.0 410.6L1492.6 406.6L1492.6 422.4L1495.2 415.6L1495.2 405.5L1497.8 390.1L1497.8 394.0L1500.4 401.3L1500.4 393.8L1503.0 402.3L1503.0 410.7L1505.6 411.1L1505.6 399.5L1508.2 388.9L1508.2 411.0L1510.8 414.6L1510.8 402.5L1513.4 414.1L1513.4 437.5L1516.0 419.8L1516.0 409.6L1518.6 393.9L1518.6 401.5L1521.2 406.6L1521.2 398.0L1523.8 408.2L1523.8 412.3L1526.4 419.0L1526.4 404.2L1529.0 406.2L1529.0 407.2L1531.6 406.9L1531.6 388.9L1534.2 393.6L1534.2 410.4L1536.8 407.2L1536.8 402.0L1539.4 411.6L1539.4 421.5L1542.0 413.8L1542.0 406.8L1544.6 402.3L1544.6 403.3L1547.2 408.2L1547.2 404.4L1549.8 400.4L1549.8 416.9L1552.4 420.4L1552.4 410.5L1555.0 402.2L1555.0 412.4L1557.6 416.6L1557.6 409.4L1560.2 407.2L1560.2 423.8L1562.8 414.8L1562.8 402.0L1565.4 408.9L1565.4 422.5L1568.0 420.7L1568.0 402.3L1570.6 410.4L1570.6 413.2L1573.2 427.3L1573.2 405.5L1575.8 404.8L1575.8 406.6L1578.4 422.4L1578.4 406.3L1581.0 406.7L1581.0 414.9L1583.6 411.3L1586.2 412.7L1586.2 424.1L1588.8 415.0L1588.8 413.8L1591.4 398.5L1591.4 411.2L1594.0 417.3L1594.0 404.7L1596.6 408.2L1596.6 424.5L1599.2 426.7L1599.2 395.5L1601.8 407.1L1601.8 420.7L1604.4 420.0L1604.4 415.1L1607.0 410.2L1607.0 417.7L1609.6 423.1L1609.6 414.9L1612.2 396.7L1612.2 408.9L1614.8 412.1L1614.8 398.3L1617.4 410.3L1617.4 414.3L1620.0 418.2L1620.0 404.8L1622.6 398.5L1622.6 404.4L1625.2 413.7L1625.2 387.6L1627.8 408.9L1627.8 415.9L1630.4 418.9L1630.4 404.6L1633.0 402.5L1633.0 414.1L1635.6 418.2L1635.6 404.9L1638.2 405.6L1638.2 414.1L1640.8 413.7L1640.8 400.2L1643.4 419.4L1643.4 428.1L1646.0 416.2L1646.0 405.1L1648.6 415.3L1648.6 427.8L1651.2 426.1L1651.2 418.2L1653.8 415.8L1653.8 426.9L1656.4 413.6L1656.4 394.8L1659.0 393.1L1659.0 409.3L1661.6 405.1L1661.6 397.9L1664.2 405.3L1664.2 415.7L1666.8 413.4L1666.8 408.5L1669.4 398.0L1669.4 415.5L1672.0 418.7L1672.0 398.2L1674.6 402.0L1674.6 409.3L1677.2 413.4L1677.2 403.4L1679.8 411.1L1679.8 415.8L1682.4 417.5L1682.4 400.1L1685.0 410.5L1685.0 416.6L1687.6 416.4L1687.6 399.5L1690.2 406.5L1690.2 417.4L1692.8 411.3L1692.8 401.7L1695.4 414.7L1695.4 425.9L1698.0 423.1L1698.0 400.7L1700.6 408.1L1700.6 416.8L1703.2 418.3L1703.2 404.0L1705.8 402.4L1705.8 416.3L1708.4 418.9L1708.4 409.4L1711.0 405.8L1711.0 420.8L1713.6 420.6L1713.6 405.3L1716.2 406.7L1716.2 416.1L1718.8 417.0L1718.8 409.4L1721.4 409.6L1721.4 421.1L1724.0 417.4L1724.0 416.4L1726.6 404.8L1726.6 424.2L1729.2 422.8L1729.2 406.4L1731.8 417.7L1731.8 428.6L1734.4 423.3L1734.4 414.6L1737.0 418.4L1737.0 439.3L1739.6 435.5L1739.6 425.5L1742.2 415.5L1742.2 435.3L1744.8 423.4L1744.8 410.6L1747.4 413.6L1747.4 424.3L1750.0 424.3L1750.0 421.2L1752.6 413.4L1752.6 427.7L1755.2 428.7L1755.2 423.9L1757.8 410.6L1757.8 431.0L1760.4 440.9L1760.4 423.7L1763.0 425.7L1763.0 448.6L1765.6 427.7L1765.6 417.5L1768.2 423.8L1768.2 439.7L1770.8 422.3L1770.8 419.7L1773.4 425.1L1773.4 427.2L1776.0 439.6L1776.0 413.8L1778.6 402.5L1778.6 419.1L1781.2 421.6L1781.2 408.1L1783.8 421.8L1783.8 434.3L1786.4 427.4L1786.4 423.4L1789.0 420.0L1789.0 423.0L1791.6 417.8L1791.6 404.0L1794.2 412.5L1794.2 423.7L1796.8 434.5L1796.8 433.2L1799.4 407.7L1799.4 435.6L1802.0 428.9L1802.0 420.3L1804.6 410.1L1804.6 434.9L1807.2 432.9L1807.2 411.3L1809.8 417.2L1809.8 426.4L1812.4 432.4L1812.4 406.1L1815.0 409.3L1815.0 430.6L1817.6 423.5L1817.6 412.3L1820.2 406.2L1820.2 428.2L1822.8 433.4L1822.8 415.9L1825.4 405.7L1825.4 416.8L1828.0 418.2L1828.0 406.7L1830.6 420.3L1830.6 433.3L1833.2 422.2L1833.2 415.5L1835.8 410.1L1835.8 417.3L1838.4 421.0L1838.4 397.8L1841.0 401.4L1841.0 424.0L1843.6 432.8L1843.6 416.6L1846.2 433.7L1846.2 439.6L1848.8 440.2L1848.8 422.6L1851.4 423.0L1851.4 435.1L1854.0 439.5L1854.0 427.6L1856.6 413.6L1856.6 445.2L1859.2 442.6L1859.2 422.0L1861.8 423.3L1861.8 436.7L1864.4 432.0L1864.4 420.7L1867.0 421.3L1867.0 435.0L1869.6 426.3L1869.6 412.8L1872.2 421.1L1874.8 418.6L1874.8 408.7L1877.4 408.0L1877.4 413.9L1880.0 424.4L1880.0 411.3L1882.6 417.7L1882.6 427.4L1885.2 430.6L1885.2 425.1L1887.8 414.8L1887.8 427.3L1890.4 420.0L1890.4 398.8L1893.0 410.5L1893.0 414.2L1895.6 409.2L1895.6 398.3L1898.2 403.1L1898.2 415.9L1900.8 420.9L1900.8 415.9L1903.4 412.3L1903.4 434.0L1906.0 426.0L1906.0 415.0L1908.6 422.9L1908.6 433.9L1911.2 433.0L1911.2 416.4L1913.8 427.6L1913.8 428.3L1916.4 440.6L1916.4 432.0L1919.0 422.6L1919.0 434.5L1921.6 445.5L1921.6 427.5L1924.2 417.0L1924.2 431.5L1926.8 437.6L1926.8 416.2L1929.4 420.8L1929.4 426.8L1932.0 418.7L1932.0 418.0L1934.6 423.3L1934.6 428.0L1937.2 436.0L1937.2 409.7L1939.8 421.8L1939.8 425.7L1942.4 435.4L1942.4 410.1L1945.0 427.9L1945.0 428.8L1947.6 430.0L1947.6 422.7L1950.2 423.3L1950.2 427.0L1952.8 441.8L1952.8 423.4L1955.4 429.9L1955.4 439.6L1958.0 429.0L1958.0 422.1L1960.6 414.0L1960.6 433.5L1963.2 431.3L1963.2 420.0L1965.8 426.1L1965.8 431.7L1968.4 429.6L1968.4 410.7L1971.0 425.1L1971.0 428.9L1973.6 424.5L1973.6 422.7L1976.2 414.3L1976.2 422.1L1978.8 416.4L1978.8 397.4L1981.4 400.1L1981.4 404.6L1984.0 409.2L1984.0 394.4L1986.6 397.4L1986.6 409.6L1989.2 417.8L1989.2 392.3L1991.8 400.4L1991.8 418.6L1994.4 421.5L1994.4 409.6L1997.0 400.1L1997.0 410.6L1999.6 432.0L1999.6 404.2L2002.2 414.1L2002.2 420.9L2004.8 434.0L2004.8 417.7L2007.4 422.4L2007.4 450.3L2010.0 445.8L2010.0 429.8L2012.6 430.1L2012.6 438.0L2015.2 434.3L2015.2 418.8L2017.8 423.8L2017.8 432.3L2020.4 420.3L2023.0 415.5L2023.0 431.3L2025.6 426.7L2025.6 419.7L2028.2 424.8L2028.2 439.2L2030.8 439.7L2030.8 433.6L2033.4 430.8L2033.4 436.5L2036.0 432.1L2036.0 424.7L2038.6 416.9L2038.6 436.6L2041.2 440.7L2041.2 421.3L2043.8 414.1L2043.8 428.0L2046.4 424.1L2046.4 416.5L2049.0 426.3L2049.0 440.2L2051.6 457.1L2051.6 441.6L2054.2 435.2L2054.2 453.6L2056.8 441.4L2056.8 420.3L2059.4 428.2L2059.4 448.1L2062.0 471.3L2062.0 440.5L2064.6 440.5L2064.6 454.6L2067.2 449.6L2067.2 437.4L2069.8 435.4L2069.8 446.5L2072.4 464.3L2072.4 443.7L2075.0 447.1L2075.0 468.6L2077.6 460.1L2077.6 457.4L2080.2 448.3L2080.2 459.5L2082.8 456.2L2082.8 443.9L2085.4 445.1L2085.4 459.0L2088.0 467.9L2088.0 449.4L2090.6 458.6L2090.6 460.8L2093.2 475.2L2093.2 472.3L2095.8 472.2L2095.8 483.4L2098.4 480.6L2098.4 458.5L2101.0 477.9L2101.0 487.0L2103.6 499.4L2103.6 489.6L2106.2 475.1L2106.2 494.5L2108.8 489.9L2108.8 478.9L2111.4 480.5L2114.0 500.6L2114.0 486.9L2116.6 488.9L2116.6 507.7L2119.2 513.4L2119.2 502.1L2121.8 490.4L2121.8 501.0L2124.4 498.8L2124.4 476.7L2127.0 487.6L2127.0 505.6L2129.6 503.3L2129.6 495.5L2132.2 494.3L2132.2 504.4L2134.8 508.0L2134.8 497.5L2137.4 502.1L2137.4 521.1L2140.0 527.7L2140.0 501.8L2142.6 501.2L2142.6 521.7L2145.2 541.2L2145.2 521.6L2147.8 511.8L2147.8 529.1L2150.4 542.7L2150.4 540.2L2153.0 543.6L2153.0 563.7L2155.6 565.8L2155.6 548.1L2158.2 541.9L2158.2 574.8L2160.8 583.5L2160.8 564.4L2163.4 575.2L2163.4 586.2L2166.0 575.6L2166.0 574.8L2168.6 575.6L2168.6 588.4L2171.2 594.0L2171.2 576.4L2173.8 579.4L2173.8 586.0L2176.4 581.6L2176.4 557.3L2179.0 566.8L2179.0 575.1L2181.6 583.7L2184.2 583.4L2184.2 599.4L2186.8 598.5L2186.8 578.9L2189.4 575.5L2189.4 589.7L2192.0 594.0L2192.0 572.3L2194.6 581.4L2194.6 608.3L2197.2 605.4L2197.2 595.8L2199.8 600.5L2199.8 604.0L2202.4 604.1L2202.4 585.1L2205.0 599.2L2205.0 606.2L2207.6 611.4L2207.6 598.7L2210.2 613.2L2210.2 617.3L2212.8 630.9L2212.8 613.2L2215.4 618.7L2215.4 627.3L2218.0 631.9L2218.0 621.1L2220.6 626.1L2220.6 643.3L2223.2 611.5L2223.2 609.0L2225.8 592.7L2225.8 609.1L2228.4 610.3L2228.4 596.8L2231.0 610.4L2231.0 626.3L2233.6 644.0L2233.6 627.7L2236.2 636.2L2236.2 659.0L2238.8 667.4L2238.8 659.6L2241.4 674.2L2244.0 681.7L2244.0 678.0L2246.6 696.8L2246.6 699.1L2249.2 718.8L2249.2 704.4L2251.8 721.9L2251.8 727.3L2254.4 753.6L2254.4 740.2L2257.0 755.4L2257.0 758.0L2259.6 763.2L2259.6 758.7L2262.2 766.9L2264.8 776.4L2264.8 770.0L2267.4 791.0L2267.4 800.2L2270.0 821.1L2272.6 833.9L2272.6 843.4L2275.2 848.7L2275.2 839.5L2277.8 863.4L2277.8 864.8L2280.4 887.1L2280.4 880.9L2283.0 900.0L2283.0 908.9L2285.6 914.1L2285.6 905.8L2288.2 923.0L2288.2 925.4L2290.8 946.6L2290.8 938.8L2293.4 957.0L2293.4 962.1L2296.0 978.0L2296.0 973.7L2298.6 985.0L2298.6 992.3L2301.2 1010.6L2301.2 1005.1L2303.8 1025.4L2303.8 1030.8L2306.4 1051.2L2306.4 1048.0L2309.0 1057.0L2309.0 1063.6L2311.6 1054.0L2311.6 1045.1L2314.2 1029.4L2314.2 1032.1L2316.8 1033.7L2316.8 1032.1L2319.4 1055.3L2319.4 1057.8L2322.0 1115.5L2322.0 1109.1L2324.6 1105.8L2324.6 1120.3L2327.2 1131.7L2327.2 1129.3L2329.8 1139.8L2329.8 1146.5L2332.4 1162.4L2332.4 1159.2L2335.0 1175.4L2335.0 1184.6L2337.6 1190.3L2337.6 1177.9L2340.2 1194.2L2340.2 1199.7L2342.8 1223.8L2342.8 1219.2L2345.4 1242.0L2345.4 1251.9L2348.0 1254.8L2348.0 1251.5L2350.6 1257.6L2350.6 1269.8L2353.2 1275.4L2353.2 1269.6L2355.8 1271.6L2355.8 1286.2L2358.4 1283.1L2358.4 1276.3L2361.0 1285.8L2361.0 1297.0L2363.6 1315.8L2363.6 1300.7L2366.2 1309.3L2366.2 1324.7L2368.8 1333.6L2368.8 1326.8L2371.4 1335.6L2371.4 1343.5L2372.0 1347.0" stroke="#ff0a14" stroke-width="4.4"/>
<path d="M2236.2 647.6L2238.8 663.5L2241.4 674.2L2244.0 679.8L2246.6 697.9L2249.2 711.6L2251.8 724.6L2254.4 746.9L2257.0 756.7L2259.6 760.9L2262.2 766.9L2264.8 773.2L2267.4 795.6L2270.0 821.1L2272.6 838.7L2275.2 844.1L2277.8 864.1L2280.4 884.0L2283.0 904.4L2285.6 910.0L2288.2 924.2L2290.8 942.7L2293.4 959.6L2296.0 975.9L2298.6 988.6L2301.2 1007.9L2303.8 1028.1L2306.4 1049.6L2309.0 1060.3L2311.6 1049.6L2314.2 1030.7L2316.8 1032.9L2319.4 1056.6L2322.0 1112.3L2324.6 1113.1L2327.2 1130.5L2329.8 1143.1L2332.4 1160.8L2335.0 1180.0L2337.6 1184.1L2340.2 1196.9L2342.8 1221.5L2345.4 1247.0L2348.0 1253.1L2350.6 1263.7L2353.2 1272.5L2355.8 1278.9L2358.4 1279.7L2361.0 1291.4L2363.6 1308.3L2366.2 1317.0L2368.8 1330.2L2371.4 1339.6L2372.0 1347.0" stroke="#ff0a14" stroke-width="5.2" stroke-linejoin="round"/>
</g></svg>
<rect x="327.2" y="36" width="6.8" height="334" fill="#9e252c"/>
<rect x="325.3" y="30" width="2.2" height="340" fill="#4f0000"/>
<rect x="484" y="31.5" width="99.5" height="1511.5" fill="#f0f7fa"/>
<svg x="484" y="31.5" width="99.5" height="1511.5" viewBox="484 31.5 99.5 1511.5" overflow="hidden"><g fill="none" stroke-linejoin="miter" stroke-miterlimit="2">
<rect x="484" y="28" width="99.5" height="8.5" fill="#8d9092" stroke="none"/>
<rect x="484" y="1538" width="99.5" height="8" fill="#7f8587" stroke="none"/>
<rect x="530.2" y="1510.5" width="7.8" height="28" fill="#758489" stroke="none"/>
<path d="M333.0 1073.0L333.0 1084.3L335.6 1071.5L335.6 1059.9L338.2 1058.3L338.2 1066.1L340.8 1078.7L340.8 1061.8L343.4 1067.8L343.4 1079.6L346.0 1076.9L346.0 1065.8L348.6 1075.3L348.6 1084.8L351.2 1087.2L351.2 1068.1L353.8 1069.3L353.8 1075.7L356.4 1072.8L356.4 1058.5L359.0 1072.1L359.0 1094.9L361.6 1090.0L361.6 1072.0L364.2 1077.5L364.2 1084.1L366.8 1075.1L366.8 1065.9L369.4 1062.7L369.4 1070.2L372.0 1084.2L372.0 1061.4L374.6 1073.4L374.6 1085.0L377.2 1087.1L377.2 1073.7L379.8 1061.1L379.8 1076.5L382.4 1087.6L382.4 1064.5L385.0 1074.7L385.0 1087.4L387.6 1086.5L387.6 1076.8L390.2 1087.0L390.2 1097.6L392.8 1096.4L392.8 1079.0L395.4 1078.2L395.4 1084.8L398.0 1106.8L398.0 1083.2L400.6 1072.6L400.6 1090.3L403.2 1095.8L403.2 1074.0L405.8 1078.1L405.8 1082.5L408.4 1081.2L408.4 1067.2L411.0 1069.3L411.0 1084.7L413.6 1085.2L413.6 1070.1L416.2 1075.9L416.2 1086.9L418.8 1092.8L418.8 1081.7L421.4 1088.5L421.4 1090.6L424.0 1087.8L424.0 1067.5L426.6 1086.8L426.6 1091.9L429.2 1105.1L429.2 1080.3L431.8 1087.8L431.8 1098.4L434.4 1096.8L434.4 1069.3L437.0 1079.3L437.0 1085.7L439.6 1090.7L439.6 1083.1L442.2 1078.2L442.2 1085.2L444.8 1082.6L444.8 1075.8L447.4 1065.4L447.4 1091.5L450.0 1080.9L450.0 1073.4L452.6 1070.6L452.6 1081.3L455.2 1076.5L455.2 1066.6L457.8 1075.9L457.8 1077.2L460.4 1095.5L460.4 1082.2L463.0 1083.3L463.0 1095.7L465.6 1104.9L465.6 1090.4L468.2 1077.5L468.2 1101.1L470.8 1090.8L470.8 1080.3L473.4 1087.0L473.4 1095.4L476.0 1085.8L476.0 1079.9L478.6 1061.5L478.6 1087.0L481.2 1091.0L481.2 1081.1L483.8 1059.7L483.8 1078.6L486.4 1080.7L486.4 1058.5L489.0 1070.2L489.0 1076.7L491.6 1071.6L491.6 1053.7L494.2 1070.9L494.2 1086.9L496.8 1087.7L496.8 1072.9L499.4 1058.5L499.4 1084.9L502.0 1075.6L502.0 1048.2L504.6 1074.3L504.6 1084.4L507.2 1074.5L507.2 1065.2L509.8 1058.2L509.8 1072.8L512.4 1084.4L512.4 1065.5L515.0 1068.0L515.0 1088.4L517.6 1085.2L517.6 1073.8L520.2 1076.7L520.2 1086.1L522.8 1095.6L522.8 1078.1L525.4 1093.6L528.0 1084.2L528.0 1063.9L530.6 1063.5L530.6 1081.4L533.2 1069.7L533.2 1061.4L535.8 1066.4L535.8 1077.2L538.4 1073.3L538.4 1069.7L541.0 1070.5L541.0 1090.8L543.6 1094.4L543.6 1069.5L546.2 1063.8L546.2 1093.9L548.8 1084.5L548.8 1069.7L551.4 1071.6L551.4 1080.9L554.0 1085.4L554.0 1065.1L556.6 1078.4L556.6 1088.6L559.2 1079.3L559.2 1067.4L561.8 1069.9L561.8 1072.8L564.4 1075.1L564.4 1061.2L567.0 1073.3L567.0 1082.3L569.6 1082.0L569.6 1076.7L572.2 1067.6L572.2 1080.6L574.8 1077.8L574.8 1069.9L577.4 1077.3L577.4 1083.5L580.0 1080.4L580.0 1070.2L582.6 1069.0L582.6 1072.8L585.2 1083.9L585.2 1062.0L587.8 1079.1L587.8 1088.1L590.4 1092.8L590.4 1071.6L593.0 1074.6L593.0 1078.4L595.6 1077.5L595.6 1059.9L598.2 1065.0L598.2 1070.1L600.8 1075.0L600.8 1060.2L603.4 1059.0L603.4 1086.8L606.0 1080.7L606.0 1069.7L608.6 1070.6L608.6 1087.1L611.2 1094.7L611.2 1066.3L613.8 1076.0L613.8 1082.3L616.4 1069.6L616.4 1068.7L619.0 1050.4L619.0 1063.7L621.6 1055.9L621.6 1044.7L624.2 1055.3L624.2 1062.4L626.8 1074.3L626.8 1067.1L629.4 1062.5L629.4 1070.8L632.0 1069.7L632.0 1064.0L634.6 1071.0L637.2 1089.4L637.2 1062.3L639.8 1061.8L639.8 1072.4L642.4 1064.0L642.4 1054.0L645.0 1052.2L645.0 1067.7L647.6 1067.6L647.6 1062.1L650.2 1065.6L650.2 1077.0L652.8 1067.3L652.8 1056.4L655.4 1053.5L655.4 1058.3L658.0 1062.6L658.0 1046.6L660.6 1060.6L660.6 1063.1L663.2 1074.9L663.2 1058.2L665.8 1057.3L665.8 1066.1L668.4 1070.7L668.4 1052.9L671.0 1064.7L671.0 1077.0L673.6 1069.6L673.6 1059.0L676.2 1051.2L676.2 1073.8L678.8 1067.1L678.8 1061.4L681.4 1061.3L681.4 1072.7L684.0 1070.3L684.0 1052.8L686.6 1061.9L686.6 1069.4L689.2 1060.0L691.8 1058.3L691.8 1062.8L694.4 1058.2L694.4 1051.1L697.0 1050.0L697.0 1072.0L699.6 1066.4L699.6 1060.7L702.2 1054.3L702.2 1058.7L704.8 1057.7L704.8 1046.5L707.4 1041.9L707.4 1050.5L710.0 1060.7L710.0 1049.5L712.6 1048.1L712.6 1067.9L715.2 1052.9L715.2 1043.7L717.8 1048.4L717.8 1069.0L720.4 1059.0L720.4 1045.3L723.0 1043.5L723.0 1051.8L725.6 1047.3L725.6 1039.7L728.2 1034.4L728.2 1044.1L730.8 1053.0L730.8 1029.5L733.4 1055.3L733.4 1058.3L736.0 1065.9L736.0 1045.2L738.6 1047.5L738.6 1055.7L741.2 1055.4L741.2 1034.9L743.8 1044.0L743.8 1046.2L746.4 1055.0L746.4 1042.9L749.0 1032.5L749.0 1057.6L751.6 1052.4L751.6 1038.3L754.2 1039.0L754.2 1048.3L756.8 1064.0L756.8 1039.5L759.4 1049.5L759.4 1053.0L762.0 1054.7L762.0 1050.6L764.6 1043.8L764.6 1051.8L767.2 1053.5L767.2 1038.2L769.8 1033.9L769.8 1051.2L772.4 1050.4L772.4 1034.5L775.0 1033.6L775.0 1047.8L777.6 1046.5L777.6 1034.4L780.2 1026.4L780.2 1042.4L782.8 1050.1L782.8 1027.6L785.4 1044.0L785.4 1048.9L788.0 1039.8L788.0 1030.3L790.6 1032.3L790.6 1040.8L793.2 1046.2L793.2 1030.1L795.8 1030.6L795.8 1035.5L798.4 1039.4L798.4 1031.8L801.0 1034.9L801.0 1043.9L803.6 1042.4L803.6 1031.4L806.2 1028.6L806.2 1043.3L808.8 1035.1L808.8 1023.8L811.4 1011.6L811.4 1034.5L814.0 1029.6L814.0 1019.5L816.6 1031.4L816.6 1043.0L819.2 1045.3L819.2 1032.1L821.8 1037.5L821.8 1047.6L824.4 1040.8L824.4 1015.3L827.0 1026.3L827.0 1040.1L829.6 1026.6L829.6 1018.5L832.2 1015.2L832.2 1025.4L834.8 1036.5L834.8 1022.8L837.4 1019.1L837.4 1032.6L840.0 1038.6L840.0 1022.4L842.6 1025.6L842.6 1030.0L845.2 1032.7L845.2 1024.7L847.8 1019.9L847.8 1039.5L850.4 1053.5L850.4 1025.5L853.0 1026.5L853.0 1035.2L855.6 1029.5L855.6 1009.5L858.2 1017.1L858.2 1023.3L860.8 1025.0L860.8 1020.1L863.4 1013.6L863.4 1032.5L866.0 1024.6L866.0 1011.6L868.6 1013.0L868.6 1025.1L871.2 1029.7L871.2 1004.7L873.8 1014.5L873.8 1015.1L876.4 1030.5L876.4 1011.8L879.0 1024.8L879.0 1031.1L881.6 1026.7L881.6 1021.7L884.2 1017.6L884.2 1027.3L886.8 1015.9L886.8 1001.4L889.4 1010.5L889.4 1017.3L892.0 1016.5L892.0 1008.5L894.6 1013.8L894.6 1025.1L897.2 1008.9L897.2 999.5L899.8 1008.7L899.8 1014.6L902.4 1034.2L902.4 1007.8L905.0 1001.4L905.0 1017.7L907.6 1023.0L907.6 1002.8L910.2 1009.0L910.2 1012.7L912.8 1023.2L912.8 1015.6L915.4 996.5L915.4 1018.2L918.0 1010.8L918.0 1006.2L920.6 992.3L920.6 1015.4L923.2 1019.4L923.2 1011.4L925.8 1004.9L925.8 1015.2L928.4 1023.6L928.4 1005.8L931.0 1001.1L931.0 1003.9L933.6 1021.0L933.6 1009.8L936.2 1012.9L936.2 1019.2L938.8 1007.3L938.8 1003.4L941.4 1000.9L941.4 1031.9L944.0 1012.4L944.0 996.8L946.6 1005.0L946.6 1014.0L949.2 1022.0L949.2 1004.8L951.8 1012.3L951.8 1017.7L954.4 1025.0L954.4 1001.4L957.0 1017.9L957.0 1025.1L959.6 1018.9L959.6 1012.0L962.2 1005.1L962.2 1010.4L964.8 1006.9L964.8 977.1L967.4 1001.0L967.4 1009.5L970.0 1013.8L970.0 999.4L972.6 1003.1L972.6 1012.0L975.2 1013.6L975.2 1006.6L977.8 1007.5L977.8 1011.0L980.4 1011.7L980.4 1003.4L983.0 997.8L983.0 1012.2L985.6 1014.3L985.6 999.5L988.2 1002.2L988.2 1019.5L990.8 1015.3L990.8 1007.0L993.4 990.9L993.4 1008.6L996.0 992.7L996.0 975.6L998.6 987.6L998.6 1002.8L1001.2 993.2L1001.2 988.6L1003.8 997.4L1003.8 1010.5L1006.4 1017.0L1006.4 997.6L1009.0 1008.9L1009.0 1012.2L1011.6 1015.3L1011.6 998.3L1014.2 994.0L1014.2 1000.6L1016.8 1009.2L1016.8 991.4L1019.4 992.6L1019.4 1002.5L1022.0 1009.6L1022.0 999.9L1024.6 993.6L1024.6 1006.6L1027.2 1005.5L1027.2 1001.2L1029.8 995.1L1029.8 1005.8L1032.4 1017.9L1032.4 1001.7L1035.0 1003.7L1035.0 1011.2L1037.6 994.5L1037.6 993.2L1040.2 984.8L1040.2 991.6L1042.8 1003.3L1042.8 993.0L1045.4 986.5L1045.4 1012.7L1048.0 996.3L1048.0 986.1L1050.6 984.1L1050.6 994.7L1053.2 988.2L1053.2 976.1L1055.8 974.6L1055.8 982.6L1058.4 986.3L1058.4 975.5L1061.0 975.0L1061.0 987.2L1063.6 988.9L1063.6 980.2L1066.2 981.0L1066.2 986.7L1068.8 988.2L1068.8 979.7L1071.4 973.2L1071.4 990.7L1074.0 989.2L1074.0 973.1L1076.6 979.9L1076.6 996.3L1079.2 990.8L1079.2 978.7L1081.8 985.3L1081.8 1001.6L1084.4 998.6L1084.4 988.2L1087.0 971.0L1087.0 990.5L1089.6 991.3L1089.6 985.9L1092.2 973.0L1092.2 992.1L1094.8 989.3L1094.8 977.0L1097.4 968.7L1097.4 983.9L1100.0 975.1L1100.0 967.9L1102.6 969.3L1102.6 983.2L1105.2 983.1L1105.2 970.4L1107.8 964.6L1107.8 975.9L1110.4 973.5L1110.4 966.7L1113.0 975.1L1113.0 982.1L1115.6 980.5L1115.6 952.3L1118.2 962.9L1118.2 993.1L1120.8 992.0L1120.8 966.8L1123.4 961.2L1123.4 974.5L1126.0 988.5L1126.0 962.3L1128.6 963.3L1128.6 987.8L1131.2 984.3L1131.2 972.0L1133.8 978.7L1133.8 980.4L1136.4 987.4L1136.4 965.1L1139.0 963.2L1139.0 967.0L1141.6 969.7L1141.6 959.0L1144.2 953.3L1144.2 963.3L1146.8 967.9L1146.8 957.6L1149.4 952.3L1149.4 978.2L1152.0 976.0L1152.0 957.2L1154.6 943.8L1154.6 972.8L1157.2 984.3L1157.2 973.5L1159.8 977.7L1159.8 983.1L1162.4 979.2L1162.4 978.9L1165.0 962.4L1165.0 973.2L1167.6 972.1L1167.6 957.8L1170.2 967.9L1170.2 977.8L1172.8 980.6L1172.8 968.1L1175.4 965.5L1175.4 984.5L1178.0 981.0L1178.0 975.8L1180.6 973.4L1180.6 981.7L1183.2 980.3L1183.2 967.6L1185.8 959.8L1185.8 965.9L1188.4 954.2L1188.4 941.4L1191.0 954.2L1191.0 969.6L1193.6 967.2L1193.6 957.0L1196.2 964.4L1196.2 974.4L1198.8 977.4L1198.8 974.8L1201.4 973.7L1201.4 979.6L1204.0 978.3L1204.0 973.8L1206.6 973.7L1206.6 990.8L1209.2 982.9L1209.2 974.6L1211.8 964.2L1211.8 974.7L1214.4 968.0L1214.4 955.5L1217.0 956.4L1217.0 973.8L1219.6 969.2L1219.6 960.1L1222.2 961.5L1222.2 974.1L1224.8 969.3L1224.8 961.4L1227.4 956.3L1227.4 963.6L1230.0 963.2L1230.0 937.1L1232.6 930.7L1232.6 959.3L1235.2 954.6L1235.2 944.8L1237.8 946.0L1237.8 961.2L1240.4 966.0L1240.4 951.3L1243.0 956.4L1243.0 964.9L1245.6 976.2L1245.6 959.4L1248.2 952.6L1248.2 964.6L1250.8 956.4L1250.8 949.8L1253.4 953.6L1253.4 964.5L1256.0 969.6L1256.0 956.1L1258.6 944.3L1258.6 952.1L1261.2 958.7L1261.2 950.4L1263.8 956.2L1263.8 963.3L1266.4 968.4L1266.4 952.4L1269.0 956.2L1269.0 962.0L1271.6 954.5L1271.6 947.7L1274.2 961.4L1274.2 965.8L1276.8 966.9L1276.8 944.7L1279.4 947.0L1279.4 964.3L1282.0 953.4L1282.0 936.6L1284.6 941.3L1284.6 949.1L1287.2 950.3L1287.2 933.7L1289.8 938.8L1289.8 950.3L1292.4 955.9L1292.4 944.7L1295.0 923.9L1295.0 942.6L1297.6 951.4L1297.6 930.6L1300.2 949.3L1300.2 956.9L1302.8 962.4L1302.8 950.7L1305.4 961.0L1305.4 965.7L1308.0 964.1L1308.0 946.3L1310.6 945.5L1310.6 956.3L1313.2 961.0L1313.2 938.6L1315.8 954.7L1315.8 961.2L1318.4 963.3L1318.4 947.1L1321.0 943.1L1321.0 955.7L1323.6 948.2L1323.6 935.8L1326.2 923.2L1326.2 934.9L1328.8 937.2L1328.8 931.6L1331.4 933.5L1331.4 962.4L1334.0 944.8L1334.0 937.2L1336.6 933.7L1336.6 942.3L1339.2 950.3L1339.2 928.8L1341.8 940.9L1341.8 953.1L1344.4 950.9L1344.4 939.0L1347.0 935.1L1347.0 951.8L1349.6 946.9L1349.6 930.4L1352.2 937.2L1352.2 946.4L1354.8 967.8L1354.8 942.0L1357.4 942.7L1357.4 949.4L1360.0 952.8L1360.0 946.6L1362.6 940.6L1362.6 947.5L1365.2 954.8L1365.2 939.0L1367.8 941.7L1367.8 944.4L1370.4 958.6L1370.4 931.0L1373.0 934.8L1373.0 946.3L1375.6 944.3L1375.6 930.5L1378.2 921.6L1378.2 944.4L1380.8 938.8L1380.8 929.9L1383.4 932.4L1383.4 940.0L1386.0 940.1L1386.0 928.9L1388.6 939.0L1388.6 956.3L1391.2 950.4L1391.2 935.2L1393.8 929.1L1393.8 942.4L1396.4 937.9L1396.4 922.5L1399.0 935.7L1401.6 944.9L1401.6 940.5L1404.2 934.6L1404.2 950.1L1406.8 935.2L1406.8 928.9L1409.4 928.6L1409.4 935.8L1412.0 926.2L1412.0 908.8L1414.6 912.4L1414.6 931.2L1417.2 935.9L1417.2 926.9L1419.8 919.9L1419.8 934.5L1422.4 934.8L1422.4 920.4L1425.0 911.8L1425.0 928.3L1427.6 926.6L1427.6 900.5L1430.2 907.0L1430.2 928.7L1432.8 929.8L1432.8 904.2L1435.4 912.3L1435.4 934.1L1438.0 931.3L1438.0 919.4L1440.6 918.0L1440.6 922.3L1443.2 917.6L1443.2 906.8L1445.8 895.0L1445.8 915.2L1448.4 917.6L1448.4 908.7L1451.0 913.8L1451.0 919.9L1453.6 913.0L1453.6 903.2L1456.2 896.3L1456.2 913.7L1458.8 917.9L1458.8 910.3L1461.4 915.7L1461.4 936.9L1464.0 930.3L1464.0 927.6L1466.6 924.7L1466.6 937.6L1469.2 932.2L1469.2 922.3L1471.8 920.5L1471.8 933.9L1474.4 932.4L1474.4 902.8L1477.0 919.4L1477.0 933.1L1479.6 926.4L1479.6 908.7L1482.2 919.8L1482.2 936.9L1484.8 935.8L1484.8 910.2L1487.4 927.2L1487.4 939.7L1490.0 935.3L1490.0 929.7L1492.6 922.0L1492.6 927.4L1495.2 929.5L1495.2 919.7L1497.8 921.0L1497.8 930.0L1500.4 936.8L1500.4 916.9L1503.0 918.7L1503.0 926.6L1505.6 930.1L1505.6 917.9L1508.2 906.5L1508.2 914.2L1510.8 913.3L1513.4 911.5L1513.4 925.2L1516.0 944.6L1516.0 922.3L1518.6 920.6L1518.6 927.9L1521.2 917.3L1521.2 908.8L1523.8 900.1L1523.8 926.5L1526.4 914.9L1526.4 898.8L1529.0 907.9L1529.0 911.5L1531.6 912.7L1531.6 904.0L1534.2 914.1L1536.8 909.9L1536.8 899.8L1539.4 898.5L1539.4 912.0L1542.0 921.3L1542.0 917.4L1544.6 918.6L1544.6 926.2L1547.2 925.7L1547.2 914.6L1549.8 907.2L1549.8 934.5L1552.4 929.6L1552.4 917.4L1555.0 906.8L1555.0 928.0L1557.6 915.0L1557.6 908.7L1560.2 900.9L1560.2 909.7L1562.8 911.1L1562.8 905.8L1565.4 918.1L1565.4 931.7L1568.0 928.0L1568.0 917.1L1570.6 908.7L1570.6 912.6L1573.2 918.9L1573.2 890.3L1575.8 908.2L1575.8 920.4L1578.4 921.1L1578.4 904.9L1581.0 910.3L1581.0 913.2L1583.6 917.9L1583.6 914.9L1586.2 904.0L1586.2 909.0L1588.8 915.8L1588.8 905.2L1591.4 910.2L1591.4 921.6L1594.0 924.1L1594.0 910.9L1596.6 919.5L1596.6 923.3L1599.2 917.9L1599.2 915.5L1601.8 891.0L1601.8 910.6L1604.4 929.6L1604.4 913.6L1607.0 919.3L1607.0 932.2L1609.6 940.4L1609.6 921.0L1612.2 909.5L1612.2 927.8L1614.8 929.0L1614.8 919.7L1617.4 909.8L1617.4 923.9L1620.0 946.5L1620.0 908.6L1622.6 914.6L1622.6 920.6L1625.2 924.1L1625.2 909.0L1627.8 913.1L1627.8 919.4L1630.4 937.4L1630.4 923.8L1633.0 919.3L1633.0 926.6L1635.6 926.4L1635.6 910.0L1638.2 910.8L1638.2 915.5L1640.8 917.5L1640.8 909.7L1643.4 911.5L1643.4 931.3L1646.0 920.3L1646.0 908.5L1648.6 911.1L1648.6 919.3L1651.2 914.1L1651.2 906.7L1653.8 904.0L1653.8 914.6L1656.4 915.7L1656.4 910.9L1659.0 902.4L1659.0 918.1L1661.6 910.2L1661.6 904.6L1664.2 907.3L1666.8 906.9L1666.8 892.3L1669.4 895.5L1669.4 906.8L1672.0 931.8L1672.0 911.6L1674.6 909.8L1674.6 921.3L1677.2 914.2L1677.2 905.2L1679.8 892.7L1679.8 910.7L1682.4 926.4L1682.4 899.9L1685.0 909.8L1685.0 922.8L1687.6 931.7L1687.6 911.7L1690.2 918.4L1690.2 925.9L1692.8 930.7L1692.8 921.2L1695.4 910.6L1695.4 929.6L1698.0 924.5L1698.0 911.5L1700.6 915.3L1700.6 919.0L1703.2 923.0L1703.2 911.8L1705.8 906.7L1705.8 922.2L1708.4 923.0L1708.4 912.8L1711.0 905.3L1711.0 933.7L1713.6 908.6L1713.6 902.1L1716.2 911.3L1716.2 921.0L1718.8 918.5L1718.8 916.0L1721.4 904.6L1721.4 919.7L1724.0 921.3L1724.0 898.9L1726.6 906.9L1726.6 909.5L1729.2 919.5L1729.2 913.0L1731.8 919.1L1731.8 929.6L1734.4 933.3L1734.4 899.6L1737.0 906.5L1737.0 920.9L1739.6 922.9L1739.6 915.8L1742.2 921.6L1744.8 921.5L1744.8 915.1L1747.4 910.9L1747.4 940.7L1750.0 923.1L1750.0 910.2L1752.6 902.9L1752.6 916.2L1755.2 912.0L1755.2 890.4L1757.8 908.7L1757.8 918.4L1760.4 922.0L1760.4 911.9L1763.0 901.5L1763.0 923.2L1765.6 912.9L1765.6 901.5L1768.2 896.6L1768.2 911.9L1770.8 901.6L1770.8 894.2L1773.4 903.3L1773.4 916.2L1776.0 910.3L1776.0 887.3L1778.6 906.8L1778.6 920.7L1781.2 923.8L1781.2 905.8L1783.8 903.9L1783.8 912.0L1786.4 918.1L1786.4 904.0L1789.0 906.9L1789.0 924.9L1791.6 930.8L1791.6 923.3L1794.2 913.2L1794.2 916.6L1796.8 915.1L1796.8 902.4L1799.4 907.8L1799.4 921.6L1802.0 938.3L1802.0 923.0L1804.6 919.6L1804.6 925.9L1807.2 923.8L1807.2 916.6L1809.8 929.2L1809.8 934.5L1812.4 956.3L1812.4 932.3L1815.0 932.5L1815.0 939.2L1817.6 919.0L1817.6 900.0L1820.2 891.6L1820.2 900.4L1822.8 898.9L1822.8 893.9L1825.4 901.6L1825.4 906.0L1828.0 889.7L1828.0 879.8L1830.6 885.1L1830.6 904.5L1833.2 911.6L1833.2 902.7L1835.8 902.3L1835.8 906.7L1838.4 911.3L1838.4 906.0L1841.0 912.5L1841.0 920.7L1843.6 925.7L1843.6 910.2L1846.2 908.1L1846.2 925.0L1848.8 929.0L1848.8 918.6L1851.4 924.8L1851.4 930.1L1854.0 923.2L1854.0 898.3L1856.6 915.2L1856.6 920.4L1859.2 934.6L1859.2 910.1L1861.8 915.3L1861.8 925.0L1864.4 920.0L1864.4 911.5L1867.0 909.5L1867.0 923.7L1869.6 925.8L1869.6 920.1L1872.2 925.7L1872.2 939.3L1874.8 924.9L1874.8 909.6L1877.4 916.5L1877.4 920.7L1880.0 916.1L1880.0 903.5L1882.6 893.9L1882.6 912.5L1885.2 898.2L1885.2 884.8L1887.8 893.9L1887.8 911.9L1890.4 903.8L1890.4 892.6L1893.0 902.6L1893.0 908.1L1895.6 909.1L1895.6 885.9L1898.2 893.4L1898.2 914.5L1900.8 922.6L1900.8 908.2L1903.4 911.4L1903.4 920.3L1906.0 922.1L1906.0 913.1L1908.6 918.4L1908.6 929.0L1911.2 931.7L1911.2 924.6L1913.8 922.3L1913.8 925.8L1916.4 924.8L1916.4 903.1L1919.0 905.7L1919.0 920.8L1921.6 932.2L1921.6 910.8L1924.2 906.5L1924.2 917.8L1926.8 909.7L1926.8 892.9L1929.4 886.0L1929.4 902.0L1932.0 906.9L1932.0 900.1L1934.6 889.0L1934.6 908.6L1937.2 893.7L1937.2 884.4L1939.8 888.8L1939.8 903.0L1942.4 901.9L1942.4 892.5L1945.0 900.9L1945.0 907.1L1947.6 909.5L1947.6 908.6L1950.2 898.7L1950.2 920.2L1952.8 924.5L1952.8 913.2L1955.4 915.9L1955.4 931.6L1958.0 930.4L1958.0 914.7L1960.6 914.8L1960.6 923.8L1963.2 924.9L1963.2 913.3L1965.8 893.5L1965.8 916.8L1968.4 909.9L1968.4 880.1L1971.0 896.7L1971.0 903.5L1973.6 904.6L1973.6 896.5L1976.2 897.8L1976.2 911.8L1978.8 917.7L1978.8 899.0L1981.4 878.7L1981.4 899.8L1984.0 890.6L1984.0 876.7L1986.6 886.3L1986.6 898.0L1989.2 904.9L1989.2 897.4L1991.8 872.2L1991.8 895.5L1994.4 904.3L1994.4 891.4L1997.0 877.9L1997.0 906.0L1999.6 910.1L1999.6 901.2L2002.2 914.1L2002.2 919.0L2004.8 929.7L2004.8 917.7L2007.4 922.5L2007.4 933.9L2010.0 921.9L2010.0 910.9L2012.6 912.0L2012.6 919.2L2015.2 912.4L2015.2 907.8L2017.8 901.7L2017.8 915.3L2020.4 906.2L2020.4 883.9L2023.0 890.6L2023.0 893.4L2025.6 887.7L2025.6 875.4L2028.2 883.2L2028.2 899.1L2030.8 894.8L2030.8 876.1L2033.4 892.6L2033.4 897.7L2036.0 891.3L2036.0 886.5L2038.6 882.3L2038.6 901.4L2041.2 899.1L2041.2 880.2L2043.8 884.1L2043.8 903.8L2046.4 907.1L2046.4 885.7L2049.0 910.7L2049.0 914.2L2051.6 940.2L2051.6 919.2L2054.2 928.8L2054.2 935.9L2056.8 938.6L2056.8 920.4L2059.4 921.3L2059.4 925.5L2062.0 920.6L2062.0 917.7L2064.6 912.3L2064.6 921.1L2067.2 922.7L2067.2 902.5L2069.8 927.9L2069.8 939.3L2072.4 933.9L2072.4 929.1L2075.0 928.9L2075.0 939.7L2077.6 933.6L2077.6 914.5L2080.2 926.9L2080.2 941.2L2082.8 942.2L2082.8 922.8L2085.4 935.8L2085.4 944.2L2088.0 960.1L2088.0 937.1L2090.6 947.5L2090.6 950.6L2093.2 951.3L2093.2 947.7L2095.8 945.0L2095.8 954.5L2098.4 960.9L2098.4 934.9L2101.0 950.6L2101.0 962.7L2103.6 963.3L2103.6 947.8L2106.2 950.6L2106.2 966.7L2108.8 975.2L2108.8 963.4L2111.4 968.3L2111.4 972.5L2114.0 982.4L2114.0 972.5L2116.6 977.6L2116.6 986.6L2119.2 985.0L2119.2 980.6L2121.8 969.1L2121.8 992.7L2124.4 979.9L2124.4 974.3L2127.0 977.4L2127.0 991.8L2129.6 996.0L2129.6 984.5L2132.2 983.6L2132.2 1000.5L2134.8 1014.8L2134.8 989.7L2137.4 990.1L2137.4 1009.6L2140.0 1007.5L2140.0 992.8L2142.6 998.7L2142.6 1012.6L2145.2 1010.7L2145.2 1005.2L2147.8 1001.7L2147.8 1016.4L2150.4 1010.8L2150.4 1006.9L2153.0 998.6L2153.0 1021.0L2155.6 1035.7L2155.6 1020.4L2158.2 1029.6L2158.2 1045.1L2160.8 1046.4L2160.8 1029.8L2163.4 1010.9L2163.4 1032.9L2166.0 1039.7L2166.0 1035.7L2168.6 1040.2L2168.6 1045.1L2171.2 1036.4L2171.2 1030.8L2173.8 1033.6L2173.8 1041.6L2176.4 1030.2L2176.4 1020.6L2179.0 1023.0L2179.0 1035.9L2181.6 1040.4L2181.6 1025.3L2184.2 1009.2L2184.2 1021.2L2186.8 1024.8L2186.8 1015.0L2189.4 1029.6L2189.4 1037.0L2192.0 1046.1L2192.0 1035.7L2194.6 1029.2L2194.6 1042.0L2197.2 1045.5L2197.2 1018.8L2199.8 1025.6L2199.8 1039.2L2202.4 1039.7L2202.4 1029.0L2205.0 1040.4L2205.0 1043.4L2207.6 1054.6L2207.6 1038.2L2210.2 1062.3L2210.2 1064.7L2212.8 1078.0L2212.8 1069.2L2215.4 1078.6L2215.4 1097.6L2218.0 1088.8L2218.0 1055.3L2220.6 1085.1L2220.6 1091.5L2223.2 1083.4L2223.2 1072.3L2225.8 1061.9L2225.8 1077.7L2228.4 1077.9L2228.4 1068.2L2231.0 1072.3L2231.0 1077.8L2233.6 1090.4L2233.6 1078.2L2236.2 1093.5L2236.2 1098.2L2238.8 1121.8L2238.8 1109.3L2241.4 1124.4L2241.4 1141.8L2244.0 1144.4L2244.0 1135.3L2246.6 1145.2L2246.6 1155.3L2249.2 1159.7L2249.2 1155.9L2251.8 1168.8L2251.8 1171.2L2254.4 1180.9L2254.4 1175.0L2257.0 1189.4L2257.0 1190.0L2259.6 1211.5L2259.6 1199.3L2262.2 1210.6L2262.2 1215.3L2264.8 1234.5L2264.8 1222.3L2267.4 1233.3L2267.4 1256.8L2270.0 1257.0L2270.0 1254.1L2272.6 1276.4L2272.6 1282.6L2275.2 1295.5L2275.2 1294.4L2277.8 1297.6L2277.8 1305.4L2280.4 1313.6L2280.4 1306.1L2283.0 1323.8L2283.0 1334.1L2285.6 1348.8L2285.6 1347.4L2288.2 1366.5L2288.2 1380.5L2290.8 1394.4L2290.8 1384.9L2293.4 1391.9L2293.4 1411.9L2296.0 1426.8L2296.0 1415.6L2298.6 1437.8L2298.6 1441.1L2301.2 1467.3L2301.2 1450.5L2303.8 1467.5L2303.8 1474.7L2306.4 1488.9L2306.4 1482.2L2309.0 1479.3L2309.0 1501.4L2311.6 1509.9L2311.6 1495.8L2314.2 1497.5L2314.2 1508.7L2316.8 1514.5L2316.8 1504.3L2318.0 1517.0L2318.3 1540" stroke="#838587" stroke-width="4.4"/>
<path d="M330.8 37L330.8 350L333.0 335.1L333.0 366.0L335.6 346.1L335.6 343.0L338.2 330.5L338.2 359.0L340.8 340.5L340.8 329.1L343.4 339.0L343.4 340.3L346.0 355.1L346.0 340.0L348.6 333.2L348.6 341.0L351.2 357.8L351.2 330.4L353.8 334.4L353.8 341.4L356.4 340.4L356.4 331.0L359.0 331.4L359.0 367.1L361.6 350.9L361.6 338.9L364.2 333.5L364.2 344.6L366.8 338.6L366.8 318.8L369.4 318.2L369.4 343.9L372.0 342.9L372.0 328.8L374.6 331.4L374.6 342.5L377.2 343.3L377.2 330.5L379.8 333.3L379.8 340.0L382.4 353.8L382.4 343.2L385.0 344.4L385.0 357.3L387.6 354.0L387.6 343.4L390.2 349.6L390.2 357.9L392.8 350.2L392.8 331.4L395.4 323.1L395.4 340.5L398.0 342.0L398.0 331.3L400.6 336.3L400.6 339.1L403.2 368.8L403.2 332.9L405.8 339.6L405.8 353.7L408.4 349.3L408.4 336.0L411.0 332.4L411.0 344.8L413.6 346.6L413.6 324.3L416.2 336.7L416.2 341.1L418.8 334.3L418.8 325.3L421.4 326.8L421.4 343.0L424.0 349.5L424.0 336.0L426.6 347.5L426.6 358.9L429.2 358.1L429.2 352.3L431.8 347.9L431.8 349.3L434.4 361.8L434.4 337.7L437.0 345.6L437.0 351.4L439.6 357.8L439.6 339.8L442.2 341.4L442.2 345.5L444.8 337.4L444.8 329.9L447.4 332.4L447.4 348.8L450.0 350.6L450.0 349.8L452.6 355.9L452.6 369.2L455.2 368.8L455.2 352.6L457.8 347.6L457.8 362.2L460.4 359.4L460.4 347.7L463.0 348.7L463.0 359.1L465.6 363.7L465.6 354.8L468.2 343.4L468.2 356.6L470.8 374.3L470.8 350.1L473.4 341.3L473.4 356.0L476.0 354.3L476.0 337.4L478.6 352.5L478.6 361.3L481.2 376.2L481.2 355.7L483.8 351.1L483.8 369.9L486.4 366.7L486.4 336.8L489.0 337.4L489.0 354.2L491.6 372.5L491.6 344.0L494.2 355.1L494.2 360.1L496.8 361.2L496.8 346.9L499.4 343.9L499.4 348.2L502.0 341.1L502.0 336.6L504.6 338.9L504.6 362.8L507.2 352.9L507.2 349.3L509.8 338.7L509.8 360.4L512.4 368.1L512.4 360.5L515.0 356.2L515.0 363.9L517.6 364.2L517.6 356.0L520.2 363.3L520.2 381.4L522.8 371.7L522.8 364.9L525.4 358.5L525.4 359.6L528.0 361.6L528.0 354.0L530.6 358.5L530.6 365.3L533.2 354.8L533.2 335.8L535.8 342.3L535.8 362.7L538.4 355.6L538.4 348.8L541.0 354.1L541.0 362.4L543.6 363.1L543.6 335.1L546.2 347.8L546.2 352.9L548.8 365.5L548.8 355.1L551.4 353.4L551.4 357.7L554.0 370.1L554.0 354.1L556.6 360.2L556.6 365.0L559.2 382.9L559.2 368.0L561.8 360.2L561.8 369.2L564.4 378.0L564.4 361.2L567.0 366.5L567.0 373.1L569.6 377.8L569.6 362.0L572.2 359.6L572.2 372.6L574.8 368.6L574.8 362.9L577.4 366.2L577.4 385.2L580.0 377.7L580.0 360.8L582.6 370.9L582.6 387.2L585.2 370.9L585.2 367.8L587.8 362.9L587.8 387.3L590.4 372.6L590.4 357.8L593.0 357.3L593.0 382.4L595.6 377.7L595.6 363.0L598.2 359.7L598.2 378.9L600.8 374.2L600.8 363.5L603.4 373.6L603.4 378.3L606.0 390.0L606.0 375.3L608.6 366.2L608.6 378.7L611.2 382.4L611.2 380.5L613.8 369.5L613.8 377.4L616.4 377.7L616.4 358.6L619.0 366.8L619.0 382.8L621.6 390.3L621.6 369.3L624.2 372.3L624.2 379.9L626.8 387.1L626.8 359.0L629.4 358.4L629.4 395.1L632.0 376.1L632.0 368.0L634.6 363.8L634.6 375.2L637.2 378.1L637.2 363.1L639.8 368.6L639.8 387.2L642.4 384.0L642.4 367.6L645.0 366.8L645.0 378.9L647.6 377.9L647.6 370.9L650.2 374.1L650.2 387.8L652.8 384.7L652.8 364.9L655.4 369.2L655.4 381.6L658.0 379.9L658.0 365.9L660.6 379.6L660.6 387.4L663.2 393.3L663.2 378.2L665.8 365.8L665.8 384.6L668.4 385.6L668.4 377.4L671.0 378.6L671.0 385.1L673.6 384.2L673.6 372.2L676.2 361.3L676.2 384.1L678.8 371.7L678.8 362.3L681.4 368.5L681.4 386.1L684.0 373.0L684.0 368.5L686.6 361.7L686.6 369.1L689.2 372.1L689.2 360.9L691.8 370.1L691.8 384.6L694.4 383.1L694.4 370.3L697.0 376.3L697.0 392.1L699.6 383.5L699.6 371.8L702.2 362.4L702.2 382.0L704.8 381.6L704.8 373.0L707.4 372.9L707.4 396.0L710.0 381.1L710.0 367.3L712.6 373.4L712.6 381.0L715.2 397.5L715.2 372.9L717.8 367.0L717.8 387.4L720.4 383.5L720.4 376.3L723.0 359.5L723.0 385.3L725.6 386.8L725.6 377.9L728.2 390.5L728.2 398.8L730.8 402.5L730.8 380.1L733.4 377.7L733.4 394.6L736.0 386.8L736.0 373.6L738.6 382.2L738.6 397.1L741.2 397.0L741.2 383.3L743.8 382.6L743.8 386.6L746.4 393.0L746.4 381.2L749.0 380.4L749.0 388.8L751.6 389.1L751.6 386.5L754.2 381.2L754.2 388.6L756.8 388.1L756.8 377.7L759.4 375.2L759.4 391.9L762.0 393.0L762.0 376.3L764.6 378.0L764.6 388.5L767.2 381.4L767.2 372.2L769.8 368.6L769.8 385.6L772.4 389.0L772.4 378.8L775.0 377.6L775.0 387.5L777.6 394.8L777.6 376.8L780.2 385.5L780.2 401.4L782.8 388.1L782.8 381.5L785.4 384.4L785.4 388.2L788.0 394.9L788.0 379.0L790.6 378.6L790.6 395.5L793.2 381.6L793.2 374.5L795.8 365.4L795.8 390.7L798.4 386.0L798.4 372.6L801.0 373.4L801.0 386.5L803.6 388.0L803.6 383.7L806.2 383.4L806.2 404.0L808.8 390.3L808.8 383.0L811.4 371.1L811.4 374.2L814.0 380.8L814.0 372.1L816.6 382.9L816.6 393.1L819.2 406.8L819.2 388.4L821.8 395.8L821.8 400.7L824.4 392.7L824.4 379.2L827.0 377.9L827.0 388.2L829.6 394.9L829.6 386.7L832.2 384.7L834.8 387.5L834.8 386.0L837.4 393.1L837.4 398.3L840.0 398.2L840.0 381.0L842.6 375.8L842.6 391.3L845.2 408.2L845.2 396.4L847.8 385.8L847.8 396.0L850.4 383.8L850.4 379.4L853.0 379.2L853.0 389.9L855.6 387.3L855.6 379.5L858.2 367.0L858.2 400.5L860.8 396.6L860.8 383.6L863.4 385.8L863.4 391.5L866.0 400.5L866.0 385.8L868.6 387.7L868.6 390.0L871.2 391.1L871.2 379.5L873.8 376.2L873.8 378.9L876.4 384.2L876.4 373.5L879.0 381.4L879.0 396.4L881.6 399.0L881.6 386.4L884.2 388.6L884.2 393.3L886.8 393.6L886.8 386.1L889.4 374.9L889.4 397.8L892.0 382.3L892.0 375.7L894.6 386.4L894.6 389.9L897.2 387.5L897.2 383.9L899.8 368.9L899.8 411.0L902.4 395.8L902.4 388.7L905.0 386.0L905.0 400.0L907.6 392.8L907.6 381.1L910.2 372.7L910.2 386.2L912.8 392.9L912.8 370.9L915.4 383.2L915.4 389.3L918.0 384.1L918.0 383.2L920.6 380.0L920.6 407.3L923.2 395.1L923.2 372.7L925.8 380.0L925.8 393.2L928.4 389.6L928.4 380.4L931.0 367.6L931.0 397.2L933.6 394.6L933.6 387.5L936.2 386.9L938.8 398.0L938.8 387.1L941.4 384.8L941.4 403.5L944.0 403.0L944.0 393.3L946.6 384.7L946.6 396.9L949.2 397.3L949.2 385.2L951.8 390.5L951.8 396.0L954.4 396.6L954.4 387.1L957.0 374.4L957.0 395.2L959.6 402.6L959.6 398.2L962.2 396.6L962.2 407.4L964.8 397.6L964.8 388.5L967.4 383.0L967.4 392.4L970.0 396.8L970.0 381.4L972.6 380.9L972.6 395.3L975.2 391.7L975.2 383.5L977.8 373.1L977.8 397.7L980.4 391.4L980.4 374.7L983.0 379.6L983.0 386.6L985.6 392.3L985.6 385.0L988.2 381.4L988.2 395.1L990.8 393.9L990.8 380.5L993.4 385.1L993.4 394.4L996.0 391.5L996.0 383.4L998.6 374.7L998.6 382.4L1001.2 389.8L1001.2 380.0L1003.8 377.8L1003.8 404.4L1006.4 406.2L1006.4 395.0L1009.0 375.1L1009.0 404.0L1011.6 392.4L1011.6 380.9L1014.2 394.7L1014.2 401.1L1016.8 401.3L1016.8 389.0L1019.4 384.8L1019.4 404.9L1022.0 389.4L1022.0 387.4L1024.6 377.3L1024.6 404.8L1027.2 389.6L1027.2 386.4L1029.8 389.7L1029.8 400.9L1032.4 411.2L1032.4 387.3L1035.0 392.8L1035.0 400.7L1037.6 413.0L1037.6 385.2L1040.2 391.6L1040.2 399.3L1042.8 392.2L1042.8 382.3L1045.4 397.0L1045.4 419.0L1048.0 401.8L1048.0 386.5L1050.6 384.3L1050.6 404.1L1053.2 399.8L1053.2 380.5L1055.8 371.9L1055.8 390.9L1058.4 393.3L1058.4 383.9L1061.0 378.7L1061.0 388.9L1063.6 385.8L1063.6 383.4L1066.2 383.6L1066.2 390.0L1068.8 402.6L1068.8 392.2L1071.4 389.5L1071.4 404.7L1074.0 394.7L1074.0 389.9L1076.6 383.5L1076.6 392.1L1079.2 394.4L1079.2 382.0L1081.8 392.3L1081.8 399.3L1084.4 403.1L1084.4 384.8L1087.0 388.3L1087.0 391.6L1089.6 396.0L1089.6 393.7L1092.2 372.2L1092.2 395.1L1094.8 394.0L1094.8 373.2L1097.4 396.6L1097.4 398.8L1100.0 406.8L1100.0 402.6L1102.6 398.5L1102.6 406.0L1105.2 409.1L1105.2 394.0L1107.8 397.6L1107.8 403.7L1110.4 402.8L1110.4 397.0L1113.0 395.5L1113.0 401.6L1115.6 408.9L1115.6 400.9L1118.2 398.4L1118.2 412.3L1120.8 412.5L1120.8 401.1L1123.4 398.3L1123.4 412.6L1126.0 408.6L1126.0 388.9L1128.6 400.3L1128.6 407.0L1131.2 403.9L1131.2 390.1L1133.8 378.1L1133.8 395.9L1136.4 396.1L1136.4 384.8L1139.0 389.4L1139.0 394.9L1141.6 405.0L1141.6 385.3L1144.2 389.7L1144.2 403.8L1146.8 399.8L1146.8 390.6L1149.4 398.4L1149.4 409.7L1152.0 416.8L1152.0 406.8L1154.6 399.4L1154.6 406.3L1157.2 408.5L1157.2 392.1L1159.8 401.0L1159.8 405.7L1162.4 408.7L1162.4 404.1L1165.0 396.1L1165.0 402.8L1167.6 395.2L1167.6 393.5L1170.2 387.5L1170.2 402.9L1172.8 406.4L1172.8 391.4L1175.4 393.5L1175.4 397.3L1178.0 397.8L1178.0 393.1L1180.6 402.3L1180.6 419.4L1183.2 412.2L1183.2 401.3L1185.8 387.6L1185.8 412.3L1188.4 409.3L1188.4 397.6L1191.0 399.2L1191.0 409.2L1193.6 395.6L1193.6 380.3L1196.2 385.2L1196.2 398.1L1198.8 393.7L1198.8 384.5L1201.4 383.8L1201.4 402.1L1204.0 402.1L1204.0 395.7L1206.6 385.9L1206.6 396.9L1209.2 402.4L1209.2 395.9L1211.8 405.7L1211.8 414.5L1214.4 409.7L1214.4 400.2L1217.0 408.3L1217.0 409.9L1219.6 403.0L1219.6 391.2L1222.2 396.0L1222.2 405.6L1224.8 408.5L1224.8 394.5L1227.4 389.3L1227.4 414.2L1230.0 412.7L1230.0 399.5L1232.6 412.3L1232.6 418.9L1235.2 416.5L1235.2 404.0L1237.8 406.8L1237.8 422.4L1240.4 420.3L1240.4 417.6L1243.0 417.3L1243.0 425.5L1245.6 414.6L1245.6 394.8L1248.2 376.4L1248.2 398.3L1250.8 408.2L1250.8 398.0L1253.4 384.2L1253.4 400.5L1256.0 400.1L1256.0 380.9L1258.6 388.5L1258.6 399.4L1261.2 404.5L1261.2 393.1L1263.8 381.5L1263.8 412.8L1266.4 403.9L1266.4 398.1L1269.0 398.7L1269.0 414.8L1271.6 418.9L1271.6 394.2L1274.2 391.5L1274.2 407.6L1276.8 402.6L1276.8 387.4L1279.4 394.7L1279.4 402.7L1282.0 404.6L1282.0 392.5L1284.6 395.3L1284.6 401.7L1287.2 391.9L1287.2 382.6L1289.8 380.2L1289.8 398.2L1292.4 407.1L1292.4 382.8L1295.0 388.9L1295.0 398.9L1297.6 405.6L1297.6 389.9L1300.2 400.3L1300.2 418.4L1302.8 409.3L1302.8 397.3L1305.4 391.1L1305.4 399.0L1308.0 399.8L1308.0 389.6L1310.6 400.6L1310.6 404.6L1313.2 409.9L1313.2 397.8L1315.8 404.3L1315.8 409.7L1318.4 401.9L1318.4 398.0L1321.0 400.5L1321.0 411.4L1323.6 400.9L1323.6 394.7L1326.2 392.2L1326.2 401.6L1328.8 389.9L1328.8 374.6L1331.4 396.0L1331.4 406.0L1334.0 410.5L1334.0 406.0L1336.6 394.1L1336.6 412.0L1339.2 411.6L1339.2 406.6L1341.8 402.5L1341.8 422.6L1344.4 417.7L1344.4 399.0L1347.0 408.4L1347.0 423.1L1349.6 408.9L1349.6 393.1L1352.2 403.6L1352.2 408.1L1354.8 404.8L1354.8 398.5L1357.4 397.8L1357.4 411.0L1360.0 415.8L1360.0 405.4L1362.6 409.8L1362.6 416.9L1365.2 415.7L1365.2 404.6L1367.8 401.1L1367.8 426.6L1370.4 421.2L1370.4 394.7L1373.0 394.9L1373.0 407.5L1375.6 409.4L1375.6 399.5L1378.2 403.6L1378.2 416.6L1380.8 413.1L1380.8 410.5L1383.4 403.5L1383.4 406.0L1386.0 415.7L1386.0 405.3L1388.6 406.1L1388.6 414.9L1391.2 410.8L1391.2 396.8L1393.8 409.0L1393.8 420.3L1396.4 420.7L1396.4 404.4L1399.0 412.9L1399.0 414.6L1401.6 404.0L1401.6 403.3L1404.2 393.5L1404.2 402.7L1406.8 414.8L1406.8 384.9L1409.4 409.8L1409.4 419.5L1412.0 411.1L1412.0 396.2L1414.6 400.1L1414.6 410.3L1417.2 406.8L1417.2 398.6L1419.8 389.1L1419.8 409.7L1422.4 410.6L1422.4 377.5L1425.0 400.2L1425.0 404.6L1427.6 412.9L1427.6 401.2L1430.2 402.5L1430.2 404.0L1432.8 408.2L1432.8 396.2L1435.4 395.9L1435.4 409.8L1438.0 409.6L1438.0 395.1L1440.6 398.8L1440.6 416.1L1443.2 406.2L1443.2 399.5L1445.8 394.7L1445.8 405.3L1448.4 410.2L1448.4 403.5L1451.0 379.2L1451.0 408.6L1453.6 412.3L1453.6 405.4L1456.2 403.7L1456.2 420.7L1458.8 408.1L1461.4 397.3L1461.4 416.5L1464.0 418.3L1464.0 403.3L1466.6 412.9L1466.6 421.1L1469.2 423.4L1469.2 408.6L1471.8 404.7L1471.8 415.7L1474.4 406.0L1474.4 403.2L1477.0 413.2L1477.0 414.5L1479.6 423.9L1479.6 415.6L1482.2 411.0L1482.2 419.4L1484.8 419.7L1484.8 405.9L1487.4 404.7L1487.4 417.3L1490.0 418.7L1490.0 410.6L1492.6 406.6L1492.6 422.4L1495.2 415.6L1495.2 405.5L1497.8 390.1L1497.8 394.0L1500.4 401.3L1500.4 393.8L1503.0 402.3L1503.0 410.7L1505.6 411.1L1505.6 399.5L1508.2 388.9L1508.2 411.0L1510.8 414.6L1510.8 402.5L1513.4 414.1L1513.4 437.5L1516.0 419.8L1516.0 409.6L1518.6 393.9L1518.6 401.5L1521.2 406.6L1521.2 398.0L1523.8 408.2L1523.8 412.3L1526.4 419.0L1526.4 404.2L1529.0 406.2L1529.0 407.2L1531.6 406.9L1531.6 388.9L1534.2 393.6L1534.2 410.4L1536.8 407.2L1536.8 402.0L1539.4 411.6L1539.4 421.5L1542.0 413.8L1542.0 406.8L1544.6 402.3L1544.6 403.3L1547.2 408.2L1547.2 404.4L1549.8 400.4L1549.8 416.9L1552.4 420.4L1552.4 410.5L1555.0 402.2L1555.0 412.4L1557.6 416.6L1557.6 409.4L1560.2 407.2L1560.2 423.8L1562.8 414.8L1562.8 402.0L1565.4 408.9L1565.4 422.5L1568.0 420.7L1568.0 402.3L1570.6 410.4L1570.6 413.2L1573.2 427.3L1573.2 405.5L1575.8 404.8L1575.8 406.6L1578.4 422.4L1578.4 406.3L1581.0 406.7L1581.0 414.9L1583.6 411.3L1586.2 412.7L1586.2 424.1L1588.8 415.0L1588.8 413.8L1591.4 398.5L1591.4 411.2L1594.0 417.3L1594.0 404.7L1596.6 408.2L1596.6 424.5L1599.2 426.7L1599.2 395.5L1601.8 407.1L1601.8 420.7L1604.4 420.0L1604.4 415.1L1607.0 410.2L1607.0 417.7L1609.6 423.1L1609.6 414.9L1612.2 396.7L1612.2 408.9L1614.8 412.1L1614.8 398.3L1617.4 410.3L1617.4 414.3L1620.0 418.2L1620.0 404.8L1622.6 398.5L1622.6 404.4L1625.2 413.7L1625.2 387.6L1627.8 408.9L1627.8 415.9L1630.4 418.9L1630.4 404.6L1633.0 402.5L1633.0 414.1L1635.6 418.2L1635.6 404.9L1638.2 405.6L1638.2 414.1L1640.8 413.7L1640.8 400.2L1643.4 419.4L1643.4 428.1L1646.0 416.2L1646.0 405.1L1648.6 415.3L1648.6 427.8L1651.2 426.1L1651.2 418.2L1653.8 415.8L1653.8 426.9L1656.4 413.6L1656.4 394.8L1659.0 393.1L1659.0 409.3L1661.6 405.1L1661.6 397.9L1664.2 405.3L1664.2 415.7L1666.8 413.4L1666.8 408.5L1669.4 398.0L1669.4 415.5L1672.0 418.7L1672.0 398.2L1674.6 402.0L1674.6 409.3L1677.2 413.4L1677.2 403.4L1679.8 411.1L1679.8 415.8L1682.4 417.5L1682.4 400.1L1685.0 410.5L1685.0 416.6L1687.6 416.4L1687.6 399.5L1690.2 406.5L1690.2 417.4L1692.8 411.3L1692.8 401.7L1695.4 414.7L1695.4 425.9L1698.0 423.1L1698.0 400.7L1700.6 408.1L1700.6 416.8L1703.2 418.3L1703.2 404.0L1705.8 402.4L1705.8 416.3L1708.4 418.9L1708.4 409.4L1711.0 405.8L1711.0 420.8L1713.6 420.6L1713.6 405.3L1716.2 406.7L1716.2 416.1L1718.8 417.0L1718.8 409.4L1721.4 409.6L1721.4 421.1L1724.0 417.4L1724.0 416.4L1726.6 404.8L1726.6 424.2L1729.2 422.8L1729.2 406.4L1731.8 417.7L1731.8 428.6L1734.4 423.3L1734.4 414.6L1737.0 418.4L1737.0 439.3L1739.6 435.5L1739.6 425.5L1742.2 415.5L1742.2 435.3L1744.8 423.4L1744.8 410.6L1747.4 413.6L1747.4 424.3L1750.0 424.3L1750.0 421.2L1752.6 413.4L1752.6 427.7L1755.2 428.7L1755.2 423.9L1757.8 410.6L1757.8 431.0L1760.4 440.9L1760.4 423.7L1763.0 425.7L1763.0 448.6L1765.6 427.7L1765.6 417.5L1768.2 423.8L1768.2 439.7L1770.8 422.3L1770.8 419.7L1773.4 425.1L1773.4 427.2L1776.0 439.6L1776.0 413.8L1778.6 402.5L1778.6 419.1L1781.2 421.6L1781.2 408.1L1783.8 421.8L1783.8 434.3L1786.4 427.4L1786.4 423.4L1789.0 420.0L1789.0 423.0L1791.6 417.8L1791.6 404.0L1794.2 412.5L1794.2 423.7L1796.8 434.5L1796.8 433.2L1799.4 407.7L1799.4 435.6L1802.0 428.9L1802.0 420.3L1804.6 410.1L1804.6 434.9L1807.2 432.9L1807.2 411.3L1809.8 417.2L1809.8 426.4L1812.4 432.4L1812.4 406.1L1815.0 409.3L1815.0 430.6L1817.6 423.5L1817.6 412.3L1820.2 406.2L1820.2 428.2L1822.8 433.4L1822.8 415.9L1825.4 405.7L1825.4 416.8L1828.0 418.2L1828.0 406.7L1830.6 420.3L1830.6 433.3L1833.2 422.2L1833.2 415.5L1835.8 410.1L1835.8 417.3L1838.4 421.0L1838.4 397.8L1841.0 401.4L1841.0 424.0L1843.6 432.8L1843.6 416.6L1846.2 433.7L1846.2 439.6L1848.8 440.2L1848.8 422.6L1851.4 423.0L1851.4 435.1L1854.0 439.5L1854.0 427.6L1856.6 413.6L1856.6 445.2L1859.2 442.6L1859.2 422.0L1861.8 423.3L1861.8 436.7L1864.4 432.0L1864.4 420.7L1867.0 421.3L1867.0 435.0L1869.6 426.3L1869.6 412.8L1872.2 421.1L1874.8 418.6L1874.8 408.7L1877.4 408.0L1877.4 413.9L1880.0 424.4L1880.0 411.3L1882.6 417.7L1882.6 427.4L1885.2 430.6L1885.2 425.1L1887.8 414.8L1887.8 427.3L1890.4 420.0L1890.4 398.8L1893.0 410.5L1893.0 414.2L1895.6 409.2L1895.6 398.3L1898.2 403.1L1898.2 415.9L1900.8 420.9L1900.8 415.9L1903.4 412.3L1903.4 434.0L1906.0 426.0L1906.0 415.0L1908.6 422.9L1908.6 433.9L1911.2 433.0L1911.2 416.4L1913.8 427.6L1913.8 428.3L1916.4 440.6L1916.4 432.0L1919.0 422.6L1919.0 434.5L1921.6 445.5L1921.6 427.5L1924.2 417.0L1924.2 431.5L1926.8 437.6L1926.8 416.2L1929.4 420.8L1929.4 426.8L1932.0 418.7L1932.0 418.0L1934.6 423.3L1934.6 428.0L1937.2 436.0L1937.2 409.7L1939.8 421.8L1939.8 425.7L1942.4 435.4L1942.4 410.1L1945.0 427.9L1945.0 428.8L1947.6 430.0L1947.6 422.7L1950.2 423.3L1950.2 427.0L1952.8 441.8L1952.8 423.4L1955.4 429.9L1955.4 439.6L1958.0 429.0L1958.0 422.1L1960.6 414.0L1960.6 433.5L1963.2 431.3L1963.2 420.0L1965.8 426.1L1965.8 431.7L1968.4 429.6L1968.4 410.7L1971.0 425.1L1971.0 428.9L1973.6 424.5L1973.6 422.7L1976.2 414.3L1976.2 422.1L1978.8 416.4L1978.8 397.4L1981.4 400.1L1981.4 404.6L1984.0 409.2L1984.0 394.4L1986.6 397.4L1986.6 409.6L1989.2 417.8L1989.2 392.3L1991.8 400.4L1991.8 418.6L1994.4 421.5L1994.4 409.6L1997.0 400.1L1997.0 410.6L1999.6 432.0L1999.6 404.2L2002.2 414.1L2002.2 420.9L2004.8 434.0L2004.8 417.7L2007.4 422.4L2007.4 450.3L2010.0 445.8L2010.0 429.8L2012.6 430.1L2012.6 438.0L2015.2 434.3L2015.2 418.8L2017.8 423.8L2017.8 432.3L2020.4 420.3L2023.0 415.5L2023.0 431.3L2025.6 426.7L2025.6 419.7L2028.2 424.8L2028.2 439.2L2030.8 439.7L2030.8 433.6L2033.4 430.8L2033.4 436.5L2036.0 432.1L2036.0 424.7L2038.6 416.9L2038.6 436.6L2041.2 440.7L2041.2 421.3L2043.8 414.1L2043.8 428.0L2046.4 424.1L2046.4 416.5L2049.0 426.3L2049.0 440.2L2051.6 457.1L2051.6 441.6L2054.2 435.2L2054.2 453.6L2056.8 441.4L2056.8 420.3L2059.4 428.2L2059.4 448.1L2062.0 471.3L2062.0 440.5L2064.6 440.5L2064.6 454.6L2067.2 449.6L2067.2 437.4L2069.8 435.4L2069.8 446.5L2072.4 464.3L2072.4 443.7L2075.0 447.1L2075.0 468.6L2077.6 460.1L2077.6 457.4L2080.2 448.3L2080.2 459.5L2082.8 456.2L2082.8 443.9L2085.4 445.1L2085.4 459.0L2088.0 467.9L2088.0 449.4L2090.6 458.6L2090.6 460.8L2093.2 475.2L2093.2 472.3L2095.8 472.2L2095.8 483.4L2098.4 480.6L2098.4 458.5L2101.0 477.9L2101.0 487.0L2103.6 499.4L2103.6 489.6L2106.2 475.1L2106.2 494.5L2108.8 489.9L2108.8 478.9L2111.4 480.5L2114.0 500.6L2114.0 486.9L2116.6 488.9L2116.6 507.7L2119.2 513.4L2119.2 502.1L2121.8 490.4L2121.8 501.0L2124.4 498.8L2124.4 476.7L2127.0 487.6L2127.0 505.6L2129.6 503.3L2129.6 495.5L2132.2 494.3L2132.2 504.4L2134.8 508.0L2134.8 497.5L2137.4 502.1L2137.4 521.1L2140.0 527.7L2140.0 501.8L2142.6 501.2L2142.6 521.7L2145.2 541.2L2145.2 521.6L2147.8 511.8L2147.8 529.1L2150.4 542.7L2150.4 540.2L2153.0 543.6L2153.0 563.7L2155.6 565.8L2155.6 548.1L2158.2 541.9L2158.2 574.8L2160.8 583.5L2160.8 564.4L2163.4 575.2L2163.4 586.2L2166.0 575.6L2166.0 574.8L2168.6 575.6L2168.6 588.4L2171.2 594.0L2171.2 576.4L2173.8 579.4L2173.8 586.0L2176.4 581.6L2176.4 557.3L2179.0 566.8L2179.0 575.1L2181.6 583.7L2184.2 583.4L2184.2 599.4L2186.8 598.5L2186.8 578.9L2189.4 575.5L2189.4 589.7L2192.0 594.0L2192.0 572.3L2194.6 581.4L2194.6 608.3L2197.2 605.4L2197.2 595.8L2199.8 600.5L2199.8 604.0L2202.4 604.1L2202.4 585.1L2205.0 599.2L2205.0 606.2L2207.6 611.4L2207.6 598.7L2210.2 613.2L2210.2 617.3L2212.8 630.9L2212.8 613.2L2215.4 618.7L2215.4 627.3L2218.0 631.9L2218.0 621.1L2220.6 626.1L2220.6 643.3L2223.2 611.5L2223.2 609.0L2225.8 592.7L2225.8 609.1L2228.4 610.3L2228.4 596.8L2231.0 610.4L2231.0 626.3L2233.6 644.0L2233.6 627.7L2236.2 636.2L2236.2 659.0L2238.8 667.4L2238.8 659.6L2241.4 674.2L2244.0 681.7L2244.0 678.0L2246.6 696.8L2246.6 699.1L2249.2 718.8L2249.2 704.4L2251.8 721.9L2251.8 727.3L2254.4 753.6L2254.4 740.2L2257.0 755.4L2257.0 758.0L2259.6 763.2L2259.6 758.7L2262.2 766.9L2264.8 776.4L2264.8 770.0L2267.4 791.0L2267.4 800.2L2270.0 821.1L2272.6 833.9L2272.6 843.4L2275.2 848.7L2275.2 839.5L2277.8 863.4L2277.8 864.8L2280.4 887.1L2280.4 880.9L2283.0 900.0L2283.0 908.9L2285.6 914.1L2285.6 905.8L2288.2 923.0L2288.2 925.4L2290.8 946.6L2290.8 938.8L2293.4 957.0L2293.4 962.1L2296.0 978.0L2296.0 973.7L2298.6 985.0L2298.6 992.3L2301.2 1010.6L2301.2 1005.1L2303.8 1025.4L2303.8 1030.8L2306.4 1051.2L2306.4 1048.0L2309.0 1057.0L2309.0 1063.6L2311.6 1054.0L2311.6 1045.1L2314.2 1029.4L2314.2 1032.1L2316.8 1033.7L2316.8 1032.1L2319.4 1055.3L2319.4 1057.8L2322.0 1115.5L2322.0 1109.1L2324.6 1105.8L2324.6 1120.3L2327.2 1131.7L2327.2 1129.3L2329.8 1139.8L2329.8 1146.5L2332.4 1162.4L2332.4 1159.2L2335.0 1175.4L2335.0 1184.6L2337.6 1190.3L2337.6 1177.9L2340.2 1194.2L2340.2 1199.7L2342.8 1223.8L2342.8 1219.2L2345.4 1242.0L2345.4 1251.9L2348.0 1254.8L2348.0 1251.5L2350.6 1257.6L2350.6 1269.8L2353.2 1275.4L2353.2 1269.6L2355.8 1271.6L2355.8 1286.2L2358.4 1283.1L2358.4 1276.3L2361.0 1285.8L2361.0 1297.0L2363.6 1315.8L2363.6 1300.7L2366.2 1309.3L2366.2 1324.7L2368.8 1333.6L2368.8 1326.8L2371.4 1335.6L2371.4 1343.5L2372.0 1347.0" stroke="#fb764c" stroke-width="4.4"/>
</g></svg>
<rect x="481" y="31" width="5.2" height="1512.5" fill="#1c6c99"/>
<rect x="532.9" y="31" width="3" height="1512.5" fill="#155b86"/>
<rect x="582" y="31" width="3.2" height="1512.5" fill="#155b86"/>
<rect x="481" y="1541.6" width="104.2" height="1.6" fill="#2d6487"/>
<line x1="745" y1="602.7" x2="568" y2="426.5" stroke="#000" stroke-width="2.5"/>
<polygon points="552.3,411 579,419.8 561,434.8" fill="#000"/>
<text class="s" transform="translate(296.6 142.6) scale(1 1.040)" font-size="82" text-anchor="end">-52</text>
<text class="s" transform="translate(296.6 315.2) scale(1 1.040)" font-size="82" text-anchor="end">-56</text>
<text class="s" transform="translate(296.6 487.9) scale(1 1.040)" font-size="82" text-anchor="end">-60</text>
<text class="s" transform="translate(296.6 660.5) scale(1 1.040)" font-size="82" text-anchor="end">-64</text>
<text class="s" transform="translate(296.6 833.1) scale(1 1.040)" font-size="82" text-anchor="end">-68</text>
<text class="s" transform="translate(296.6 1005.7) scale(1 1.040)" font-size="82" text-anchor="end">-72</text>
<text class="s" transform="translate(296.6 1178.3) scale(1 1.040)" font-size="82" text-anchor="end">-76</text>
<text class="s" transform="translate(296.6 1351.0) scale(1 1.040)" font-size="82" text-anchor="end">-80</text>
<text class="s" transform="translate(296.6 1523.6) scale(1 1.040)" font-size="82" text-anchor="end">-84</text>
<text class="s" transform="translate(329.7 1638.4) scale(1 1.040)" font-size="82" text-anchor="middle">0.0</text>
<text class="s" transform="translate(534.0 1638.4) scale(1 1.040)" font-size="82" text-anchor="middle">0.2</text>
<text class="s" transform="translate(738.2 1638.4) scale(1 1.040)" font-size="82" text-anchor="middle">0.4</text>
<text class="s" transform="translate(942.5 1638.4) scale(1 1.040)" font-size="82" text-anchor="middle">0.6</text>
<text class="s" transform="translate(1146.7 1638.4) scale(1 1.040)" font-size="82" text-anchor="middle">0.8</text>
<text class="s" transform="translate(1351.0 1638.4) scale(1 1.040)" font-size="82" text-anchor="middle">1.0</text>
<text class="s" transform="translate(1555.2 1638.4) scale(1 1.040)" font-size="82" text-anchor="middle">1.2</text>
<text class="s" transform="translate(1759.5 1638.4) scale(1 1.040)" font-size="82" text-anchor="middle">1.4</text>
<text class="s" transform="translate(1963.7 1638.4) scale(1 1.040)" font-size="82" text-anchor="middle">1.6</text>
<text class="s" transform="translate(2167.9 1638.4) scale(1 1.040)" font-size="82" text-anchor="middle">1.8</text>
<text class="s" transform="translate(2372.2 1638.4) scale(1 1.040)" font-size="82" text-anchor="middle">2.0</text>
<text class="s" transform="translate(1389.7 1756.6) scale(1.0147 1)" font-size="95" text-anchor="middle">Frequency (GHz)</text>
<text class="s" transform="translate(131.8 751.3) rotate(-90)" font-size="114" text-anchor="middle">Power (dBm)</text>
<text class="r" y="355.5" font-size="82"><tspan x="1722.25" textLength="154.15" lengthAdjust="spacingAndGlyphs">Shot</tspan> <tspan x="1898.36" textLength="185.04" lengthAdjust="spacingAndGlyphs">noise</tspan></text>
<text class="r" y="628.4" font-size="82"><tspan x="769.58" textLength="338.03" lengthAdjust="spacingAndGlyphs">Quantum</tspan> <tspan x="1124.48" textLength="268.84" lengthAdjust="spacingAndGlyphs">entropy</tspan> <tspan x="1418.84" textLength="225.53" lengthAdjust="spacingAndGlyphs">source</tspan></text>
<text class="r" y="1124.4" font-size="82"><tspan x="1469.15" textLength="346.16" lengthAdjust="spacingAndGlyphs">Electronic</tspan> <tspan x="1833.28" textLength="183.19" lengthAdjust="spacingAndGlyphs">noise</tspan></text>
</svg></body></html>
